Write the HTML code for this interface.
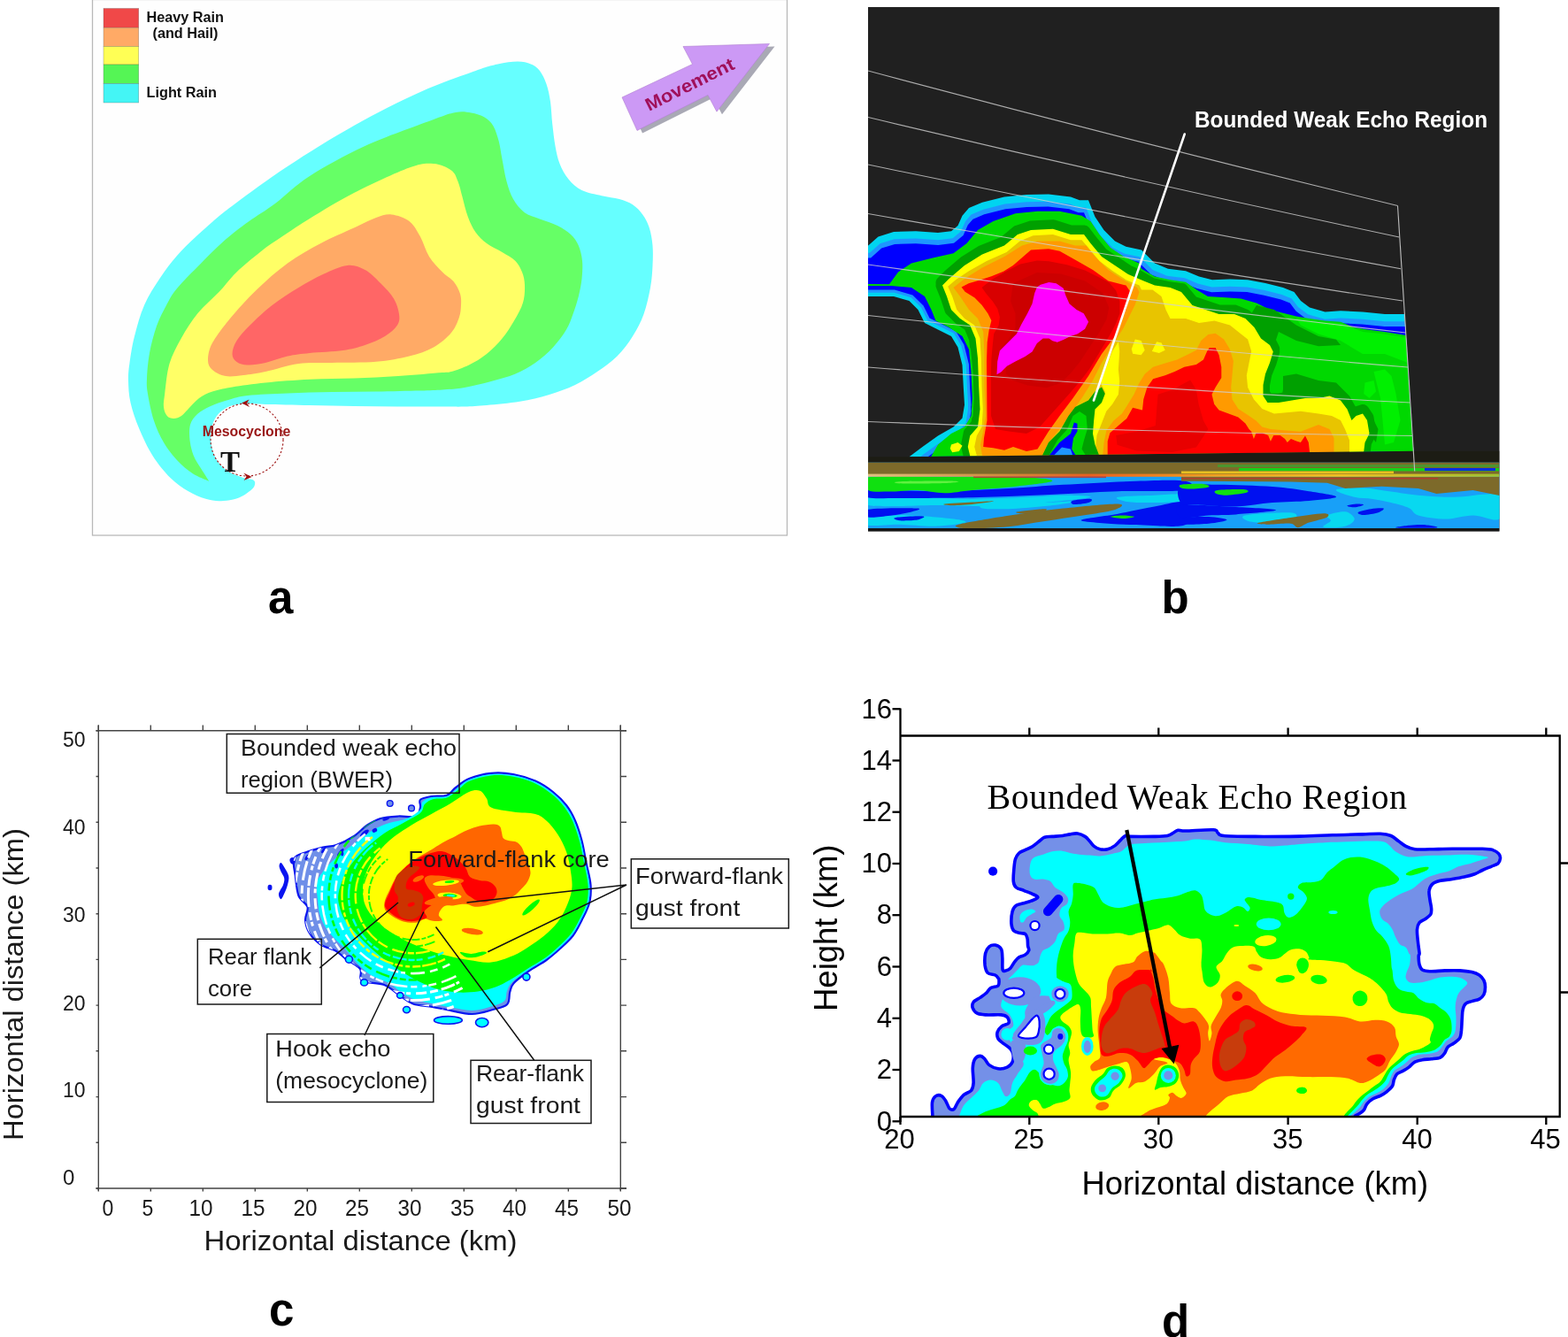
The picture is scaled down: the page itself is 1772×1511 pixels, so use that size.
<!DOCTYPE html>
<html lang="en">
<head>
<meta charset="utf-8">
<title>Supercell radar structure</title>
<style>
html,body{margin:0;padding:0;background:#fff;}
body{width:1772px;height:1511px;overflow:hidden;font-family:"Liberation Sans",sans-serif;}
svg{display:block;position:absolute;left:0;top:0;}
text{white-space:pre;}
</style>
</head>
<body>
<svg width="1772" height="1511" viewBox="0 0 1772 1511">
<rect x="0" y="0" width="1772" height="1511" fill="#ffffff"/>
<g id="pa">
<rect x="104.5" y="-0.5" width="785" height="605.5" fill="#fefefe" stroke="#b8b8b8" stroke-width="1.3"/>
<path d="M585.0,69.5C591.2,69.5 595.8,70.8 600.0,72.5C604.2,74.2 607.1,76.2 610.0,80.0C612.9,83.8 615.5,89.2 617.5,95.0C619.5,100.8 620.9,107.5 622.0,115.0C623.1,122.5 623.3,131.7 624.2,140.0C625.2,148.3 626.1,157.5 627.5,165.0C628.9,172.5 630.0,178.8 632.5,185.0C635.0,191.2 638.3,197.5 642.5,202.5C646.7,207.5 651.2,211.9 657.5,215.0C663.8,218.1 672.9,219.6 680.0,221.2C687.1,222.9 694.2,223.3 700.0,225.0C705.8,226.7 710.6,228.3 715.0,231.2C719.4,234.2 723.1,238.1 726.2,242.5C729.4,246.9 731.9,251.7 733.8,257.5C735.6,263.3 736.9,270.4 737.5,277.5C738.1,284.6 737.9,292.1 737.5,300.0C737.1,307.9 736.7,315.8 735.0,325.0C733.3,334.2 730.8,345.8 727.5,355.0C724.2,364.2 720.0,372.1 715.0,380.0C710.0,387.9 704.2,395.8 697.5,402.5C690.8,409.2 682.9,414.6 675.0,420.0C667.1,425.4 659.2,430.6 650.0,435.0C640.8,439.4 630.4,443.1 620.0,446.2C609.6,449.4 599.2,451.8 587.5,453.8C575.8,455.7 560.4,457.0 550.0,458.0C539.6,459.0 533.3,459.2 525.0,459.5C516.7,459.8 512.5,459.5 500.0,459.5C487.5,459.5 466.7,459.6 450.0,459.5C433.3,459.4 416.7,459.2 400.0,459.0C383.3,458.8 366.7,458.3 350.0,458.0C333.3,457.7 312.5,457.3 300.0,457.0C287.5,456.7 282.1,455.8 275.0,456.2C267.9,456.8 262.5,457.7 257.5,460.0C252.5,462.3 248.1,465.8 245.0,470.0C241.9,474.2 239.8,479.6 238.8,485.0C237.7,490.4 237.7,496.7 238.8,502.5C239.8,508.3 241.9,515.0 245.0,520.0C248.1,525.0 252.5,529.2 257.5,532.5C262.5,535.8 270.2,538.3 275.0,540.0C279.8,541.7 284.1,541.2 286.2,542.5C288.4,543.8 288.4,545.6 288.0,547.5C287.6,549.4 286.8,551.2 283.8,553.8C280.8,556.2 275.6,560.4 270.0,562.5C264.4,564.6 256.2,566.0 250.0,566.2C243.8,566.5 238.8,565.6 232.5,563.8C226.2,561.9 219.2,559.0 212.5,555.0C205.8,551.0 199.2,546.7 192.5,540.0C185.8,533.3 178.3,524.2 172.5,515.0C166.7,505.8 161.7,495.0 157.5,485.0C153.3,475.0 149.6,464.2 147.5,455.0C145.4,445.8 145.2,437.5 145.0,430.0C144.8,422.5 145.3,418.3 146.5,410.0C147.7,401.7 149.2,390.8 152.0,380.0C154.8,369.2 158.2,356.0 163.0,345.0C167.8,334.0 174.8,323.3 181.0,314.0C187.2,304.7 193.4,296.6 200.0,289.0C206.6,281.4 213.5,275.1 220.3,268.6C227.1,262.2 233.0,256.7 240.6,250.3C248.2,243.9 251.9,240.4 266.0,230.0C280.1,219.6 302.7,202.7 325.0,188.0C347.3,173.3 375.0,156.0 400.0,142.0C425.0,128.0 452.1,114.3 475.0,104.0C497.9,93.7 522.9,85.2 537.5,80.0C552.1,74.8 554.6,74.2 562.5,72.5C570.4,70.8 578.8,69.5 585.0,69.5Z" fill="#66ffff"/>
<path d="M236.2,543.8C233.1,542.3 223.5,539.0 217.5,535.0C211.5,531.0 205.4,525.8 200.0,520.0C194.6,514.2 189.4,507.5 185.0,500.0C180.6,492.5 176.8,484.2 173.8,475.0C170.8,465.8 168.3,452.8 167.0,445.0C165.7,437.2 165.7,435.7 166.0,428.0C166.3,420.3 167.2,408.9 169.0,399.0C170.8,389.1 173.8,377.5 177.0,368.5C180.2,359.5 184.2,352.1 188.0,345.0C191.8,337.9 193.5,333.9 200.0,326.0C206.5,318.1 218.0,306.8 227.0,297.7C236.0,288.6 245.2,279.2 254.2,271.3C263.2,263.4 271.7,257.2 281.2,250.3C290.7,243.4 299.5,238.6 311.0,230.0C322.5,221.4 333.1,209.8 350.0,199.0C366.9,188.2 389.6,175.5 412.5,165.0C435.4,154.5 470.4,142.3 487.5,136.0C504.6,129.7 507.5,128.4 515.0,127.0C522.5,125.6 527.1,126.6 532.5,127.5C537.9,128.4 543.3,130.0 547.5,132.5C551.7,135.0 554.8,137.9 557.5,142.5C560.2,147.1 562.1,153.8 563.8,160.0C565.4,166.2 566.0,172.5 567.5,180.0C569.0,187.5 570.4,197.5 572.5,205.0C574.6,212.5 576.7,219.2 580.0,225.0C583.3,230.8 587.5,236.2 592.5,240.0C597.5,243.8 603.8,245.0 610.0,247.5C616.2,250.0 624.2,252.1 630.0,255.0C635.8,257.9 641.0,261.2 645.0,265.0C649.0,268.8 651.6,272.5 653.8,277.5C655.9,282.5 657.4,288.8 658.0,295.0C658.6,301.2 658.2,308.3 657.5,315.0C656.8,321.7 655.4,328.3 653.8,335.0C652.1,341.7 649.8,348.8 647.5,355.0C645.2,361.2 643.8,366.2 640.0,372.5C636.2,378.8 630.8,386.2 625.0,392.5C619.2,398.8 612.1,405.0 605.0,410.0C597.9,415.0 590.8,419.0 582.5,422.5C574.2,426.0 564.6,428.4 555.0,431.0C545.4,433.6 534.2,436.4 525.0,438.0C515.8,439.6 508.3,439.9 500.0,440.5C491.7,441.1 487.5,441.2 475.0,441.5C462.5,441.8 441.7,442.2 425.0,442.5C408.3,442.8 391.7,442.7 375.0,443.0C358.3,443.3 340.8,443.8 325.0,444.5C309.2,445.2 291.2,445.8 280.0,447.0C268.8,448.2 265.0,450.0 258.0,452.0C251.0,454.0 243.8,456.3 238.0,459.0C232.2,461.7 226.8,464.5 223.0,468.0C219.2,471.5 216.4,475.1 215.0,480.0C213.6,484.9 213.9,491.7 214.5,497.5C215.1,503.3 216.6,509.6 218.8,515.0C220.9,520.4 224.6,525.2 227.5,530.0C230.4,534.8 234.8,541.5 236.2,543.8Z" fill="#66ff66"/>
<path d="M490.0,185.0C497.9,185.5 505.4,189.2 510.0,192.5C514.6,195.8 515.4,200.0 517.5,205.0C519.6,210.0 520.6,215.8 522.5,222.5C524.4,229.2 526.2,238.3 528.8,245.0C531.2,251.7 534.0,257.5 537.5,262.5C541.0,267.5 545.0,271.2 550.0,275.0C555.0,278.8 562.1,281.7 567.5,285.0C572.9,288.3 578.8,291.2 582.5,295.0C586.2,298.8 588.2,303.0 590.0,307.5C591.8,312.0 592.8,316.2 593.0,322.0C593.2,327.8 593.0,335.2 591.0,342.0C589.0,348.8 584.9,355.8 581.0,362.5C577.1,369.2 572.7,376.2 567.5,382.5C562.3,388.8 556.2,395.0 550.0,400.0C543.8,405.0 536.7,409.2 530.0,412.5C523.3,415.8 515.0,418.6 510.0,420.0C505.0,421.4 510.0,420.2 500.0,421.0C490.0,421.8 466.7,423.9 450.0,425.0C433.3,426.1 416.7,426.9 400.0,427.5C383.3,428.1 366.7,427.9 350.0,428.8C333.3,429.6 314.6,431.0 300.0,432.5C285.4,434.0 272.5,435.8 262.5,437.5C252.5,439.2 246.2,440.4 240.0,442.5C233.8,444.6 229.6,446.7 225.0,450.0C220.4,453.3 215.8,459.2 212.5,462.5C209.2,465.8 207.7,468.2 205.0,470.0C202.3,471.8 199.0,473.0 196.2,473.0C193.5,473.0 190.6,472.2 188.8,470.0C186.9,467.8 185.4,464.2 185.0,460.0C184.6,455.8 185.2,453.2 186.2,445.0C187.3,436.8 188.4,421.5 191.5,411.0C194.6,400.5 199.7,391.5 205.0,382.0C210.3,372.5 216.4,362.7 223.5,354.0C230.6,345.3 240.0,337.8 247.4,330.0C254.8,322.2 259.8,314.8 267.7,307.2C275.6,299.6 286.1,291.0 294.8,284.2C303.5,277.4 310.8,272.8 320.0,266.6C329.2,260.4 336.7,255.1 350.0,247.0C363.3,238.9 381.2,227.6 400.0,218.0C418.8,208.4 447.5,195.0 462.5,189.5C477.5,184.0 482.1,184.5 490.0,185.0Z" fill="#ffff66"/>
<path d="M442.5,242.5C448.8,243.2 457.1,245.8 462.5,250.0C467.9,254.2 471.2,260.8 475.0,267.5C478.8,274.2 480.8,283.3 485.0,290.0C489.2,296.7 495.4,302.8 500.0,307.5C504.6,312.2 509.2,313.9 512.5,318.0C515.8,322.1 518.6,327.5 520.0,332.0C521.4,336.5 521.2,340.5 521.0,345.0C520.8,349.5 520.6,353.8 518.8,359.0C516.9,364.2 514.8,370.4 510.0,376.0C505.2,381.6 497.9,388.1 490.0,392.5C482.1,396.9 473.3,399.8 462.5,402.5C451.7,405.2 439.6,407.5 425.0,408.8C410.4,410.0 389.6,409.6 375.0,410.0C360.4,410.4 350.0,409.3 337.5,411.0C325.0,412.7 310.4,417.8 300.0,420.0C289.6,422.2 282.5,423.2 275.0,424.0C267.5,424.8 260.8,426.0 255.0,425.0C249.2,424.0 243.3,421.0 240.0,418.0C236.7,415.0 235.0,412.1 235.0,407.0C235.0,401.9 235.8,395.3 240.0,387.5C244.2,379.7 251.7,370.0 260.0,360.0C268.3,350.0 279.2,337.9 290.0,327.5C300.8,317.1 312.9,306.2 325.0,297.5C337.1,288.8 350.0,281.7 362.5,275.0C375.0,268.3 389.6,262.3 400.0,257.5C410.4,252.7 417.9,248.5 425.0,246.0C432.1,243.5 436.2,241.8 442.5,242.5Z" fill="#ffaa66"/>
<path d="M392.5,300.0C400.4,299.2 406.2,301.7 412.5,305.0C418.8,308.3 424.6,314.6 430.0,320.0C435.4,325.4 441.5,331.7 445.0,337.5C448.5,343.3 450.3,350.0 451.0,355.0C451.7,360.0 451.7,363.3 449.0,367.5C446.3,371.7 441.1,376.2 435.0,380.0C428.9,383.8 420.4,387.3 412.5,390.0C404.6,392.7 397.9,394.5 387.5,396.0C377.1,397.5 360.4,397.9 350.0,399.0C339.6,400.1 333.3,400.7 325.0,402.5C316.7,404.3 307.5,408.3 300.0,410.0C292.5,411.7 285.4,412.7 280.0,412.5C274.6,412.3 270.4,411.1 267.5,409.0C264.6,406.9 262.5,404.0 262.5,400.0C262.5,396.0 264.2,390.4 267.5,385.0C270.8,379.6 275.8,374.2 282.5,367.5C289.2,360.8 298.3,352.1 307.5,345.0C316.7,337.9 327.9,330.8 337.5,325.0C347.1,319.2 355.8,314.2 365.0,310.0C374.2,305.8 384.6,300.8 392.5,300.0Z" fill="#ff6666"/>
<rect x="117" y="9.5" width="39.7" height="21.75" fill="#f04848" stroke="rgba(80,80,80,0.45)" stroke-width="0.6"/>
<rect x="117" y="31.25" width="39.7" height="21.25" fill="#ffaa66" stroke="rgba(80,80,80,0.45)" stroke-width="0.6"/>
<rect x="117" y="52.5" width="39.7" height="20.5" fill="#ffff55" stroke="rgba(80,80,80,0.45)" stroke-width="0.6"/>
<rect x="117" y="73" width="39.7" height="21.5" fill="#55f555" stroke="rgba(80,80,80,0.45)" stroke-width="0.6"/>
<rect x="117" y="94.5" width="39.7" height="21.5" fill="#44f5f5" stroke="rgba(80,80,80,0.45)" stroke-width="0.6"/>
<g font-family="'Liberation Sans',sans-serif" font-weight="bold" font-size="16px" fill="#111">
<text x="165.5" y="24.5" textLength="87.5" lengthAdjust="spacingAndGlyphs">Heavy Rain</text>
<text x="172.5" y="43" textLength="74" lengthAdjust="spacingAndGlyphs">(and Hail)</text>
<text x="165.5" y="110" textLength="79.5" lengthAdjust="spacingAndGlyphs">Light Rain</text>
</g>
<path d="M709.0,113.0L726.0,150.5L806.0,110.5L816.0,129.2L875.5,52.5L778.0,55.5L788.5,75.5Z" fill="#a9a9b5"/>
<path d="M703.0,110.0L720.0,147.5L800.0,107.5L810.0,126.2L869.5,49.5L772.0,52.5L782.5,72.5Z" fill="#cc99f5" stroke="#b080d0" stroke-width="0.6"/>
<text transform="translate(733.5,126) rotate(-26.5)" font-family="'Liberation Sans',sans-serif" font-weight="bold" font-size="20.5px" fill="#a0105a" textLength="109.5" lengthAdjust="spacingAndGlyphs">Movement</text>
<circle cx="279" cy="497" r="41" fill="none" stroke="#a01818" stroke-width="1.1" stroke-dasharray="2.2 2.2"/>
<path d="M273,455.5 L281.5,451.5 L279,455.8 L282,460 Z" fill="#a01010"/>
<path d="M284.5,539 L275.5,534.5 L278.5,538.8 L275.5,543 Z" fill="#a01010"/>
<text x="228.75" y="493" font-family="'Liberation Sans',sans-serif" font-weight="bold" font-size="16px" fill="#991515" textLength="99.5" lengthAdjust="spacingAndGlyphs">Mesocyclone</text>
<text x="249" y="532.5" font-family="'Liberation Serif',serif" font-weight="bold" font-size="33px" fill="#111">T</text>
</g>
<g id="pb">
<rect x="981" y="8" width="713.5" height="592.5" fill="#202020"/>
<defs><clipPath id="pbclip"><rect x="981" y="8" width="713.5" height="592.5"/></clipPath>
<clipPath id="cloudclip"><path d="M981.0,8.0L1565.0,8.0L1597.3,510.0L1027.0,516.3L981.0,516.3Z"/></clipPath></defs>
<g clip-path="url(#pbclip)">
<g clip-path="url(#cloudclip)">
<path d="M940.0,277.5L981.2,277.5L992.5,267.5L1010.0,262.0L1035.0,261.2L1060.0,263.0L1075.0,261.2L1082.5,255.0L1087.5,243.8L1095.0,235.0L1110.0,228.8L1135.0,222.5L1160.0,220.0L1185.0,219.5L1210.0,222.5L1220.0,226.2L1230.0,226.2L1232.5,232.5L1237.5,245.0L1247.5,260.0L1260.0,272.5L1272.5,278.8L1290.0,282.5L1297.5,290.0L1305.0,297.5L1320.0,303.8L1340.0,306.2L1355.0,312.5L1370.0,316.2L1390.0,315.5L1410.0,316.2L1430.0,320.0L1450.0,325.0L1462.5,330.0L1470.0,340.0L1480.0,347.5L1497.5,352.5L1515.0,351.2L1540.0,352.5L1565.0,355.0L1585.8,355.0L1640.0,357.5L1640.0,550.0L985.0,550.0L1027.5,516.2L1042.5,505.0L1060.0,492.5L1077.5,482.5L1087.5,472.5L1090.0,457.5L1088.8,437.5L1087.5,412.5L1082.5,392.5L1075.0,380.0L1060.0,372.5L1045.0,365.0L1037.5,350.0L1027.5,340.0L1010.0,335.0L981.2,335.0L940.0,335.0Z" fill="#00d4f0"/>
<path d="M944.2,330.8L1010.6,330.8L1029.7,336.3L1041.0,347.5L1048.1,361.9L1078.0,376.8L1086.4,390.9L1091.7,411.9L1092.9,437.3L1094.2,457.7L1094.0,458.8L1094.2,461.7L1091.4,478.5L1080.1,489.9L1062.3,500.0L1045.0,512.4L1030.1,523.6L1002.1,545.8L1635.8,545.8L1635.8,365.5L1585.7,363.2L1564.8,363.2L1539.7,360.7L1515.0,359.5L1497.1,360.7L1478.1,355.3L1467.0,347.0L1459.8,337.5L1448.7,333.0L1429.1,328.1L1409.5,324.4L1390.0,323.7L1369.6,324.5L1353.7,320.5L1338.9,314.3L1318.9,311.8L1302.6,305.1L1287.9,290.3L1271.1,286.7L1257.5,280.0L1244.2,266.7L1233.8,251.0L1227.2,234.4L1219.2,234.4L1209.0,230.6L1184.8,227.7L1160.3,228.2L1135.7,230.6L1111.3,236.7L1097.5,242.5L1091.1,250.0L1085.9,261.6L1076.7,269.3L1060.1,271.2L1034.9,269.5L1010.7,270.2L994.6,275.2L982.8,285.7L944.2,285.7Z" fill="#1e96ff"/>
<path d="M947.4,327.6L1011.0,327.6L1031.4,333.4L1043.6,345.6L1050.5,359.5L1080.2,374.3L1089.4,389.6L1094.9,411.4L1096.1,437.1L1097.4,457.9L1097.1,459.7L1097.4,464.4L1094.4,482.6L1082.0,494.9L1064.0,505.2L1046.9,517.5L1032.0,528.6L1014.4,542.6L1632.6,542.6L1632.6,371.1L1585.6,368.9L1564.6,368.9L1539.4,366.4L1515.1,365.2L1496.7,366.5L1476.7,360.7L1464.7,351.8L1457.8,342.6L1447.7,338.6L1428.4,333.7L1409.2,330.1L1390.0,329.4L1369.2,330.2L1352.7,326.0L1338.1,320.0L1318.1,317.5L1300.8,310.3L1286.3,295.8L1270.0,292.3L1255.6,285.1L1241.7,271.2L1230.9,255.0L1225.0,240.2L1218.7,240.2L1208.2,236.2L1184.6,233.4L1160.4,233.9L1136.3,236.3L1112.3,242.3L1099.5,247.7L1093.8,254.2L1088.6,266.1L1078.0,274.8L1060.2,276.9L1034.9,275.2L1011.2,275.9L996.2,280.6L984.1,291.4L947.4,291.4Z" fill="#0000ff"/>
<path d="M940.0,320.8L1005.0,321.2L1015.0,307.5L1030.0,297.5L1055.0,291.2L1077.5,286.2L1092.5,275.0L1105.0,260.0L1122.5,250.0L1147.5,241.2L1172.5,238.8L1197.5,238.8L1222.5,243.8L1232.5,250.0L1242.5,265.0L1255.0,280.0L1270.0,290.0L1287.5,297.5L1290.0,303.8L1305.0,312.5L1322.5,316.2L1340.0,318.8L1352.5,327.5L1365.0,335.0L1385.0,336.2L1402.5,337.5L1420.0,342.5L1435.0,350.0L1450.0,353.8L1465.0,357.5L1480.0,360.0L1497.5,362.5L1515.0,363.8L1530.0,370.0L1545.0,372.5L1565.0,375.0L1587.5,378.8L1640.0,381.2L1640.0,550.0L1042.5,550.0L1052.5,515.5L1060.0,502.5L1075.0,490.0L1090.0,482.5L1097.5,470.0L1098.8,450.0L1097.5,420.0L1095.0,395.0L1087.5,380.0L1072.5,370.0L1057.5,362.5L1052.5,350.0L1045.0,335.0L1030.0,325.0L1007.5,323.0L940.0,323.0Z" fill="#00d800"/>
<path d="M1067.9,352.4L1068.1,353.0L1068.4,353.6L1068.8,354.2L1069.2,354.8L1069.7,355.3L1079.7,365.3L1080.2,365.8L1080.8,366.2L1090.2,372.5L1095.2,384.4L1096.1,392.7L1096.8,394.1L1096.9,394.3L1096.9,394.4L1097.0,394.6L1097.0,394.8L1099.5,419.8L1099.5,419.9L1100.7,449.9L1100.7,450.1L1099.5,470.1L1099.5,470.3L1099.4,470.5L1099.4,470.7L1099.3,470.9L1099.2,471.0L1098.3,472.5L1097.8,476.3L1092.2,482.8L1091.7,483.5L1091.6,483.7L1091.5,483.8L1091.4,484.0L1091.2,484.1L1091.1,484.2L1090.9,484.3L1090.8,484.3L1090.6,484.6L1090.1,485.2L1089.7,485.8L1089.4,486.5L1089.1,487.3L1088.9,488.0L1086.4,500.5L1086.3,501.2L1086.3,501.8L1086.3,502.5L1086.3,503.2L1086.4,503.5L1086.4,503.5L1086.3,504.2L1086.3,504.8L1086.3,505.5L1086.3,506.2L1086.5,506.8L1088.8,515.9L1088.8,547.0L1088.8,548.0L1548.8,548.0L1548.8,547.0L1548.8,510.9L1549.8,502.2L1554.2,493.4L1554.5,492.6L1554.8,491.9L1554.9,491.1L1555.0,490.3L1555.0,489.5L1554.9,488.8L1554.8,488.5L1554.9,488.1L1555.0,487.3L1555.0,486.5L1554.9,485.8L1552.4,470.8L1552.2,470.0L1552.0,469.2L1551.6,468.5L1551.2,467.8L1546.2,460.3L1545.8,459.7L1545.3,459.2L1544.7,458.7L1544.1,458.2L1543.5,457.9L1542.8,457.5L1542.1,457.3L1541.3,457.1L1540.6,457.0L1539.8,457.0L1539.1,457.1L1538.4,457.2L1537.6,457.4L1530.7,459.7L1529.5,456.7L1529.2,456.1L1528.9,455.5L1528.5,455.0L1521.0,445.0L1520.6,444.5L1520.1,444.0L1519.6,443.5L1519.0,443.2L1518.4,442.8L1517.8,442.5L1505.3,437.5L1504.6,437.3L1503.9,437.1L1503.2,437.0L1502.5,437.0L1501.7,437.0L1501.0,437.1L1489.3,439.5L1475.0,439.5L1474.4,439.5L1473.8,439.6L1444.4,444.5L1436.5,444.5L1435.0,442.2L1435.0,435.7L1437.2,424.6L1442.0,412.8L1442.2,412.2L1445.9,399.7L1446.1,399.0L1446.2,398.3L1446.2,397.6L1446.2,396.9L1446.1,396.2L1446.1,396.0L1446.1,396.0L1446.2,395.3L1446.2,394.6L1446.2,393.9L1446.1,393.2L1446.0,392.5L1445.7,391.8L1445.5,391.1L1441.7,383.6L1441.4,383.0L1441.0,382.5L1440.5,381.9L1440.0,381.4L1439.5,381.0L1430.7,374.4L1423.9,363.1L1423.4,362.4L1422.8,361.7L1412.8,351.7L1412.2,351.2L1411.6,350.7L1411.0,350.4L1410.3,350.0L1397.8,345.0L1397.1,344.8L1396.4,344.6L1395.7,344.5L1395.0,344.5L1378.7,344.5L1351.9,335.6L1340.8,322.2L1340.3,321.7L1339.7,321.2L1339.1,320.7L1338.9,320.6L1322.2,318.2L1322.1,318.2L1304.6,314.5L1304.4,314.4L1304.2,314.3L1304.0,314.2L1289.0,305.5L1288.8,305.4L1288.7,305.3L1288.5,305.1L1288.4,305.0L1288.3,304.8L1288.2,304.7L1288.1,304.5L1288.1,304.5L1278.6,300.4L1250.1,281.4L1238.4,267.3L1231.0,257.5L1230.5,256.9L1230.0,256.4L1229.3,255.9L1228.7,255.5L1228.0,255.1L1227.3,254.9L1226.5,254.7L1225.8,254.5L1225.0,254.5L1211.1,254.5L1192.2,248.6L1191.6,248.4L1190.9,248.3L1190.3,248.3L1189.6,248.3L1164.6,249.5L1163.9,249.6L1163.3,249.7L1162.6,249.9L1147.6,254.9L1147.0,255.1L1146.4,255.4L1145.8,255.8L1145.2,256.2L1131.1,268.0L1107.2,277.5L1106.6,277.8L1106.0,278.1L1086.0,290.6L1085.6,291.0L1085.1,291.3L1067.6,306.3L1067.2,306.7L1059.7,314.2L1059.2,314.7L1058.8,315.3L1058.4,315.9L1058.1,316.6L1057.8,317.3L1057.7,318.0L1057.5,318.7L1057.5,319.4L1057.5,320.2L1057.6,320.9L1057.7,321.0L1057.7,321.0L1057.5,321.7L1057.5,322.4L1057.5,323.2L1057.6,323.9L1057.8,324.6L1058.0,325.3L1063.0,337.6Z" fill="#00a000"/>
<path d="M1465.0,360.0L1490.0,363.8L1515.0,365.5L1540.0,375.0L1565.0,377.5L1588.8,381.2L1591.2,410.0L1565.0,400.0L1540.0,400.0L1515.0,385.0L1490.0,377.5L1470.0,367.5Z" fill="#00f000"/>
<path d="M1552.5,420.0L1565.0,417.5L1572.5,425.0L1577.5,445.0L1582.5,475.0L1575.0,500.0L1565.0,502.5L1562.5,475.0L1560.0,450.0Z" fill="#00f000"/>
<path d="M1542.5,432.5L1552.5,430.0L1555.0,442.5L1547.5,450.0L1541.2,445.0Z" fill="#00f000"/>
<path d="M1450.0,425.0L1465.0,422.5L1490.0,430.0L1510.0,432.5L1525.0,447.5L1535.0,465.0L1550.0,470.0L1557.5,485.0L1555.0,500.0L1547.5,490.0L1545.0,475.0L1540.0,467.5L1532.5,470.0L1527.5,475.0L1522.5,462.5L1515.0,452.5L1502.5,447.5L1490.0,450.0L1475.0,450.0L1460.0,452.5L1447.5,453.8L1450.0,440.0Z" fill="#00a000"/>
<path d="M1420.0,345.0L1440.0,350.0L1465.0,367.5L1490.0,380.0L1510.0,383.8L1515.0,390.0L1490.0,391.2L1465.0,385.0L1445.0,375.0L1440.0,390.0L1438.8,397.5L1435.0,390.0L1425.0,382.5L1417.5,370.0L1410.0,361.2Z" fill="#00a000"/>
<path d="M1065.0,322.5L1072.5,315.0L1090.0,300.0L1110.0,287.5L1135.0,277.5L1150.0,265.0L1165.0,260.0L1190.0,258.8L1210.0,265.0L1225.0,265.0L1232.5,275.0L1245.0,290.0L1260.0,300.0L1275.0,310.0L1292.5,317.5L1305.0,322.5L1322.5,325.0L1335.0,330.0L1347.5,345.0L1362.5,350.0L1377.5,355.0L1395.0,355.0L1407.5,360.0L1417.5,370.0L1425.0,382.5L1435.0,390.0L1438.8,397.5L1435.0,410.0L1430.0,422.5L1427.5,435.0L1427.5,447.5L1432.5,455.0L1445.0,455.0L1460.0,452.5L1475.0,450.0L1490.0,450.0L1502.5,447.5L1515.0,452.5L1522.5,462.5L1527.5,475.0L1532.5,470.0L1540.0,467.5L1545.0,475.0L1547.5,490.0L1542.5,500.0L1541.2,510.5L1541.2,550.0L1096.2,550.0L1096.2,515.0L1093.8,505.0L1096.2,492.5L1105.0,482.5L1107.5,462.5L1106.2,437.5L1105.0,405.0L1102.5,382.5L1096.2,367.5L1085.0,360.0L1075.0,350.0L1070.0,335.0Z" fill="#ffff00"/>
<path d="M1071.2,323.8L1080.0,316.2L1095.0,306.2L1115.0,295.0L1137.5,285.0L1152.5,272.5L1167.5,266.2L1190.0,265.0L1210.0,271.2L1222.5,271.2L1230.0,280.0L1242.5,295.0L1257.5,306.2L1272.5,316.2L1287.5,322.5L1290.0,327.5L1302.5,327.5L1312.5,335.0L1317.5,350.0L1322.5,360.0L1340.0,360.0L1355.0,365.0L1372.5,362.5L1390.0,367.5L1402.5,377.5L1410.1,383.5L1414.2,397.1L1411.5,410.6L1408.8,424.2L1410.1,437.7L1416.9,451.3L1426.4,462.1L1439.9,467.5L1453.5,466.2L1469.9,464.8L1490.0,467.5L1505.0,470.0L1515.0,475.0L1520.0,485.0L1525.0,497.5L1525.0,510.5L1525.0,550.0L1103.8,550.0L1103.8,515.0L1101.2,505.0L1103.8,492.5L1109.5,482.5L1110.8,462.5L1109.5,437.5L1108.8,405.0L1107.5,382.5L1101.2,367.5L1090.0,360.0L1081.2,350.0L1076.2,335.0Z" fill="#e8c400"/>
<path d="M1077.5,325.0L1090.0,315.0L1110.0,302.5L1135.0,290.0L1155.0,277.5L1172.5,272.5L1197.5,272.5L1215.0,277.5L1227.5,277.5L1237.5,290.0L1252.5,305.0L1267.5,315.0L1285.0,325.0L1287.5,330.0L1282.5,345.0L1270.0,370.0L1257.5,390.0L1245.0,410.0L1235.0,430.0L1222.5,450.0L1210.0,467.5L1197.5,485.0L1185.0,500.0L1177.5,515.0L1177.5,550.0L1110.0,550.0L1110.0,515.0L1108.0,502.5L1110.5,490.0L1113.8,470.0L1112.5,437.5L1112.5,400.0L1111.2,375.0L1105.0,360.0L1095.0,350.0L1085.0,335.0Z" fill="#ff9a00"/>
<path d="M1244.9,532.5L1246.3,513.6L1247.6,500.0L1250.3,486.5L1258.4,475.6L1267.9,467.5L1274.7,456.7L1281.5,445.8L1286.9,433.7L1293.7,422.8L1303.1,414.7L1316.7,410.6L1330.2,406.6L1341.1,401.2L1351.9,395.7L1357.3,384.9L1365.4,378.1L1373.6,376.8L1383.1,383.5L1389.8,394.4L1393.9,407.9L1392.5,424.2L1391.2,437.7L1392.5,451.3L1399.3,462.1L1410.1,468.9L1419.6,475.6L1426.4,482.4L1435.9,485.1L1453.5,486.5L1469.9,487.8L1490.0,480.0L1502.5,485.0L1507.5,495.0L1507.5,510.5L1507.5,550.0Z" fill="#ff9a00"/>
<path d="M1086.6,324.4L1094.7,320.3L1108.2,316.3L1120.4,312.2L1134.0,306.8L1144.8,300.0L1165.0,282.5L1185.0,281.2L1197.5,283.8L1217.5,295.0L1235.0,305.0L1252.5,317.5L1272.5,322.5L1277.5,330.0L1272.5,350.0L1260.0,380.0L1245.0,400.0L1230.0,425.0L1212.5,450.0L1197.5,470.0L1185.0,487.5L1172.5,507.5L1160.0,510.0L1145.0,505.0L1135.0,508.8L1122.5,506.2L1111.2,505.0L1112.0,495.0L1115.5,475.0L1115.0,408.4L1115.7,386.7L1117.7,373.1L1120.4,362.3L1116.4,354.2L1109.6,344.7L1101.5,336.6L1090.6,329.8Z" fill="#ff0000"/>
<path d="M1251.7,532.5L1251.7,513.6L1251.7,498.7L1254.4,489.2L1263.9,481.1L1273.3,472.9L1280.1,460.7L1291.0,463.5L1292.3,451.3L1296.4,437.7L1303.1,428.2L1316.7,424.2L1327.5,420.1L1338.4,414.7L1351.9,412.0L1360.0,406.6L1364.1,397.1L1366.8,393.0L1373.6,393.0L1377.6,401.2L1380.3,414.7L1380.3,426.9L1373.6,437.7L1369.5,445.8L1372.2,456.7L1377.6,463.5L1388.5,467.5L1399.3,471.6L1407.4,478.4L1411.5,485.1L1414.2,487.8L1416.9,496.0L1419.6,489.2L1426.4,489.2L1433.2,491.9L1435.9,498.7L1439.3,491.9L1446.7,491.9L1452.1,496.0L1454.8,500.0L1458.9,496.0L1465.7,498.7L1469.9,500.0L1475.0,492.5L1478.8,500.0L1480.0,510.5L1480.0,550.0Z" fill="#ff0000"/>
<path d="M1308.6,445.8L1324.8,440.4L1345.1,429.6L1351.9,440.4L1354.6,456.7L1360.0,475.6L1365.4,485.1L1351.9,505.4L1324.8,510.9L1284.2,509.5L1262.5,502.7L1261.2,491.9L1284.2,487.8L1305.8,481.1L1307.2,462.1Z" fill="#e80000"/>
<path d="M1109.6,325.1L1120.4,316.3L1136.7,306.8L1152.9,298.6L1171.9,294.6L1185.4,295.3L1205.8,299.3L1226.1,305.4L1239.6,312.2L1253.2,319.0L1261.3,328.4L1265.4,340.6L1265.4,354.2L1261.3,365.0L1255.9,375.8L1247.8,389.4L1239.6,402.9L1231.5,416.5L1223.4,427.3L1216.6,435.4L1209.8,443.6L1175.0,482.5L1160.0,490.0L1140.0,487.5L1125.0,485.0L1120.0,470.0L1119.8,421.9L1120.4,405.6L1121.8,389.4L1123.1,377.2L1128.6,367.7L1129.9,358.2L1127.2,348.8L1121.8,340.6L1115.0,332.5Z" fill="#d80000"/>
<path d="M1144.8,320.3L1171.9,308.1L1199.0,309.5L1226.1,317.6L1246.4,331.2L1253.2,347.4L1250.5,361.0L1242.3,375.8L1231.5,392.1L1220.7,408.4L1209.8,421.9L1199.0,432.7L1182.7,438.2L1161.1,435.4L1144.8,430.0L1136.7,421.9L1136.7,402.9L1131.3,421.9L1127.2,424.6L1129.9,394.8L1139.4,384.0L1147.5,370.4L1147.5,354.2L1142.1,340.6Z" fill="#cc0000"/>
<path d="M1176.0,321.7L1185.4,319.0L1193.6,320.3L1201.7,325.7L1204.4,333.9L1208.5,343.3L1216.6,350.1L1224.7,354.2L1230.1,363.7L1226.1,371.8L1218.0,377.2L1209.8,379.9L1201.7,384.0L1194.9,386.7L1189.5,385.3L1185.4,382.6L1178.7,382.6L1171.9,388.0L1166.5,397.5L1158.4,402.9L1147.5,408.4L1138.0,413.8L1131.3,420.5L1126.5,423.3L1127.2,408.4L1129.9,396.2L1139.4,386.7L1148.9,377.2L1154.3,366.4L1161.1,354.2L1166.5,343.3L1169.2,331.2L1171.9,324.4Z" fill="#ff00ff"/>
<path d="M1238.1,532.5L1238.1,505.4L1239.5,491.9L1244.9,478.4L1250.3,464.8L1257.1,456.7L1263.9,445.8L1265.2,431.0L1263.9,417.4L1265.2,397.1L1263.9,386.3L1257.1,397.1L1250.3,414.7L1243.5,432.3L1249.0,443.1L1246.3,451.3L1238.1,456.7L1232.7,472.9L1230.0,491.9L1224.6,513.6L1224.6,532.5Z" fill="#ffff00"/>
<path d="M1282.8,383.5L1289.6,384.9L1293.7,395.7L1289.6,401.2L1280.1,399.8L1278.8,394.4Z" fill="#ffff00"/>
<path d="M1307.2,386.3L1312.6,387.6L1316.7,395.7L1309.9,399.1L1301.8,397.1Z" fill="#ffff00"/>
<path d="M1177.5,550.0L1177.5,515.5L1185.0,500.0L1197.5,487.5L1207.5,470.0L1215.0,460.0L1230.0,452.5L1237.5,442.5L1245.0,437.5L1248.8,445.0L1245.0,455.0L1237.5,462.5L1236.2,475.0L1235.0,490.0L1237.5,502.5L1242.5,515.5L1242.5,550.0Z" fill="#00a000"/>
<path d="M1185.0,550.0L1185.0,515.5L1195.0,497.5L1206.2,485.0L1212.5,470.0L1220.0,465.0L1227.5,470.0L1228.8,485.0L1225.0,497.5L1222.5,507.5L1227.5,515.5L1227.5,550.0Z" fill="#00d800"/>
<path d="M1185.0,550.0L1185.0,515.5L1197.5,500.0L1210.0,490.0L1213.8,477.5L1217.5,478.8L1217.5,487.5L1213.0,495.0L1211.2,507.5L1216.2,515.5L1216.2,550.0Z" fill="#0000ff"/>
<path d="M1190.0,550.0L1190.0,515.5L1200.0,505.5L1210.0,507.5L1212.5,515.5L1212.5,550.0Z" fill="#1e96ff"/>
<path d="M1075.0,502.5L1082.5,500.0L1087.5,503.8L1083.8,510.0L1076.2,511.2L1073.8,507.0Z" fill="#ffff00"/>
</g>
<path d="M981,516.3 L1027,516.3 L1598,509.8 L1694.5,509.8 L1694.5,523 L981,523Z" fill="#1c1c14"/>
<g id="ground">
<rect x="981" y="522.7" width="713.5" height="74.5" fill="#18a0f8"/>
<path d="M981.2,562.8C990.4,561.3 1017.2,561.6 1036.8,561.8C1056.4,562.0 1078.0,563.9 1098.6,563.9C1119.2,563.9 1143.2,562.5 1160.4,561.8C1177.5,561.1 1189.6,559.7 1201.6,559.7C1213.6,559.7 1235.9,560.4 1232.5,561.8C1229.0,563.2 1199.9,566.3 1181.0,568.0C1162.1,569.7 1139.8,571.6 1119.2,572.1C1098.6,572.6 1074.6,571.1 1057.4,571.1C1040.2,571.1 1028.9,572.1 1016.2,572.1C1003.5,572.1 987.0,572.6 981.2,571.1C975.3,569.5 971.9,564.4 981.2,562.8Z" fill="#08d8f0"/>
<path d="M981.2,584.4C988.7,582.6 1010.4,582.0 1026.5,582.4C1042.6,582.7 1067.3,585.1 1078.0,586.5C1088.6,587.9 1093.8,589.3 1090.3,590.6C1086.9,592.0 1069.7,594.4 1057.4,594.7C1045.0,595.1 1028.9,592.9 1016.2,592.7C1003.5,592.5 987.0,595.1 981.2,593.7C975.3,592.3 973.6,586.3 981.2,584.4Z" fill="#08d8f0"/>
<path d="M1119.2,568.0C1131.2,566.9 1163.8,568.3 1181.0,568.0C1198.1,567.6 1222.2,565.2 1222.2,565.9C1222.2,566.6 1194.7,570.5 1181.0,572.1C1167.2,573.6 1151.8,574.8 1139.8,575.2C1127.8,575.5 1112.3,575.4 1108.9,574.2C1105.4,572.9 1107.2,569.0 1119.2,568.0Z" fill="#08d8f0"/>
<path d="M1263.4,561.8C1268.5,560.6 1291.8,560.2 1304.6,559.7C1317.3,559.2 1333.9,557.7 1339.8,558.7C1345.6,559.7 1345.6,564.4 1339.8,565.9C1333.9,567.5 1315.6,567.8 1304.6,568.0C1293.5,568.1 1280.5,568.0 1273.7,566.9C1266.8,565.9 1258.2,563.0 1263.4,561.8Z" fill="#08d8f0"/>
<path d="M1510.1,553.6C1511.8,551.8 1530.7,551.2 1541.0,551.5C1551.3,551.8 1561.6,554.2 1571.9,555.6C1582.2,557.0 1590.8,558.7 1602.8,559.7C1614.8,560.8 1628.7,561.8 1644.0,561.8C1659.2,561.8 1686.0,555.6 1694.4,559.7C1702.8,563.9 1699.4,582.7 1694.4,586.5C1689.4,590.3 1674.7,582.4 1664.6,582.4C1654.4,582.4 1644.0,586.5 1633.7,586.5C1623.4,586.5 1609.6,584.4 1602.8,582.4C1595.9,580.3 1597.6,576.6 1592.5,574.2C1587.3,571.7 1578.7,569.7 1571.9,568.0C1565.0,566.3 1558.1,564.9 1551.3,563.9C1544.4,562.8 1537.5,563.5 1530.7,561.8C1523.8,560.1 1508.4,555.3 1510.1,553.6Z" fill="#08d8f0"/>
<path d="M1499.8,582.4C1502.5,580.7 1515.2,577.6 1520.4,578.3C1525.5,579.0 1530.7,583.8 1530.7,586.5C1530.7,589.3 1526.2,593.2 1520.4,594.7C1514.5,596.3 1498.4,596.8 1495.7,595.8C1492.9,594.7 1503.2,590.8 1503.9,588.6C1504.6,586.3 1497.0,584.1 1499.8,582.4Z" fill="#08d8f0"/>
<path d="M1407.1,582.4C1414.6,580.7 1449.3,578.6 1458.6,579.3C1467.9,580.0 1466.1,584.6 1462.7,586.5C1459.3,588.4 1446.2,590.1 1438.0,590.6C1429.7,591.1 1418.4,591.0 1413.3,589.6C1408.1,588.2 1399.5,584.1 1407.1,582.4Z" fill="#08d8f0"/>
<path d="M981.2,554.0C993.9,552.8 1031.0,555.5 1057.4,555.2C1083.8,554.9 1115.7,553.1 1139.8,551.9C1163.8,550.7 1177.5,549.2 1201.6,547.8C1225.6,546.4 1260.9,544.4 1284.0,543.7C1307.0,543.0 1330.5,541.9 1339.8,543.7C1349.1,545.4 1352.5,552.0 1339.8,554.0C1327.0,555.9 1289.8,554.3 1263.4,555.2C1236.9,556.1 1208.4,558.2 1181.0,559.3C1153.5,560.5 1126.0,561.6 1098.6,562.2C1071.1,562.8 1035.8,563.0 1016.2,563.0C996.6,563.0 987.0,563.7 981.2,562.2C975.3,560.7 968.5,555.1 981.2,554.0Z" fill="#0010f0"/>
<path d="M981.2,575.8C990.4,574.2 1029.2,574.0 1036.8,574.6C1044.3,575.1 1031.6,577.9 1026.5,579.3C1021.3,580.7 1013.4,581.9 1005.9,582.8C998.3,583.7 985.3,585.6 981.2,584.4C977.1,583.3 971.9,577.4 981.2,575.8Z" fill="#0010f0"/>
<path d="M1222.2,587.5C1225.6,585.8 1249.6,583.2 1263.4,580.7C1277.1,578.2 1291.8,574.6 1304.6,572.5C1317.3,570.4 1333.9,564.5 1339.8,568.0C1345.6,571.4 1349.1,588.9 1339.8,593.1C1330.5,597.3 1300.1,593.4 1284.0,593.1C1267.8,592.8 1253.1,592.0 1242.8,591.0C1232.5,590.1 1218.7,589.3 1222.2,587.5Z" fill="#0010f0"/>
<path d="M1012.1,584.9C1016.5,584.1 1038.9,583.0 1043.0,583.4C1047.1,583.9 1041.3,586.7 1036.8,587.5C1032.3,588.3 1020.3,588.6 1016.2,588.2C1012.1,587.7 1007.6,585.7 1012.1,584.9Z" fill="#0010f0"/>
<path d="M1211.9,565.9C1215.0,564.9 1229.4,563.5 1232.5,563.9C1235.6,564.2 1233.5,566.9 1230.4,568.0C1227.3,569.0 1217.0,570.4 1213.9,570.0C1210.8,569.7 1208.8,566.9 1211.9,565.9Z" fill="#0010f0"/>
<path d="M1335.0,549.0C1341.9,545.5 1359.0,547.6 1376.2,547.8C1393.4,548.0 1420.8,548.8 1438.0,550.1C1455.2,551.3 1467.2,553.3 1479.2,555.2C1491.2,557.1 1510.1,559.6 1510.1,561.4C1510.1,563.2 1491.2,564.8 1479.2,565.9C1467.2,567.0 1451.7,566.9 1438.0,568.0C1424.3,569.1 1410.5,572.1 1396.8,572.5C1383.1,572.9 1365.9,571.0 1355.6,570.4C1345.3,569.9 1338.4,572.6 1335.0,569.0C1331.6,565.4 1328.1,552.6 1335.0,549.0Z" fill="#0010f0"/>
<path d="M1335.0,571.1C1345.3,569.1 1378.9,572.2 1396.8,573.1C1414.6,574.0 1442.1,575.2 1442.1,576.6C1442.1,578.0 1409.5,580.4 1396.8,581.4C1384.1,582.3 1376.2,581.8 1365.9,582.4C1355.6,583.0 1340.1,586.7 1335.0,584.9C1329.9,583.0 1324.7,573.0 1335.0,571.1Z" fill="#0010f0"/>
<path d="M1335.0,585.5C1340.1,584.1 1357.3,583.7 1365.9,584.0C1374.5,584.4 1386.5,586.3 1386.5,587.5C1386.5,588.8 1374.5,590.9 1365.9,591.7C1357.3,592.4 1340.1,593.3 1335.0,592.3C1329.9,591.2 1329.9,586.9 1335.0,585.5Z" fill="#0010f0"/>
<path d="M1534.8,578.9C1536.2,577.8 1544.4,575.9 1549.2,575.2C1554.0,574.5 1562.3,573.9 1563.6,574.6C1565.0,575.2 1561.2,578.1 1557.5,579.3C1553.7,580.5 1544.7,582.0 1541.0,582.0C1537.2,581.9 1533.4,580.0 1534.8,578.9Z" fill="#0010f0"/>
<path d="M1522.4,571.7C1522.8,571.1 1529.6,569.8 1532.7,569.6C1535.8,569.4 1541.3,569.8 1541.0,570.4C1540.6,571.1 1533.8,573.1 1530.7,573.3C1527.6,573.5 1522.1,572.3 1522.4,571.7Z" fill="#0010f0"/>
<path d="M1578.0,596.4C1572.9,595.9 1587.3,594.3 1592.5,593.7C1597.6,593.2 1603.8,592.7 1608.9,593.1C1614.1,593.5 1628.5,595.8 1623.4,596.4C1618.2,596.9 1583.2,596.8 1578.0,596.4Z" fill="#0010f0"/>
<path d="M981.2,539.5C997.3,537.1 1048.1,539.1 1078.0,539.1C1107.9,539.1 1141.8,538.8 1160.4,539.5C1178.9,540.3 1190.9,542.0 1189.2,543.7C1187.5,545.3 1165.2,547.7 1150.1,549.4C1135.0,551.2 1112.3,552.7 1098.6,554.0C1084.9,555.3 1078.0,557.3 1067.7,557.3C1057.4,557.3 1047.1,554.2 1036.8,554.0C1026.5,553.7 1015.2,555.6 1005.9,555.6C996.6,555.6 985.3,556.6 981.2,554.0C977.1,551.3 965.0,542.0 981.2,539.5Z" fill="#10e010"/>
<path d="M1255.1,584.0C1254.8,583.4 1263.0,582.4 1267.5,582.4C1271.9,582.4 1281.6,583.4 1281.9,584.0C1282.2,584.7 1274.0,586.1 1269.5,586.1C1265.1,586.1 1255.5,584.7 1255.1,584.0Z" fill="#10e010"/>
<path d="M1335.0,547.8C1339.1,547.0 1354.6,546.5 1359.7,547.0C1364.9,547.4 1368.0,549.5 1365.9,550.5C1363.8,551.4 1352.5,552.4 1347.4,552.5C1342.2,552.7 1337.1,552.3 1335.0,551.5C1332.9,550.7 1330.9,548.5 1335.0,547.8Z" fill="#10e010"/>
<path d="M1376.2,554.0C1381.3,553.2 1399.5,552.7 1405.0,553.1C1410.5,553.6 1412.2,555.5 1409.2,556.6C1406.1,557.7 1392.3,559.6 1386.5,559.7C1380.7,559.9 1375.9,558.6 1374.1,557.7C1372.4,556.7 1371.0,554.7 1376.2,554.0Z" fill="#10e010"/>
<path d="M1016.2,544.3C1025.8,543.8 1068.4,543.4 1078.0,543.7C1087.6,543.9 1083.5,545.2 1073.9,545.7C1064.3,546.2 1029.9,546.8 1020.3,546.5C1010.7,546.3 1006.6,544.8 1016.2,544.3Z" fill="#60f040"/>
<path d="M1086.2,592.1C1095.8,589.9 1120.6,585.7 1139.8,582.8C1159.0,579.9 1181.0,576.8 1201.6,574.6C1222.2,572.3 1253.8,569.1 1263.4,569.4C1273.0,569.7 1266.1,574.0 1259.2,576.2C1252.4,578.4 1235.2,580.7 1222.2,582.8C1209.1,584.9 1194.7,586.9 1181.0,589.0C1167.2,591.0 1153.5,593.8 1139.8,595.2C1126.0,596.5 1108.2,597.1 1098.6,597.2C1089.0,597.4 1084.2,596.8 1082.1,596.0C1080.0,595.1 1076.6,594.3 1086.2,592.1Z" fill="#7d6a2a"/>
<path d="M1067.7,569.6C1071.8,569.0 1089.3,568.1 1098.6,567.6C1107.9,567.0 1123.3,565.9 1123.3,566.3C1123.3,566.7 1106.8,569.2 1098.6,570.0C1090.3,570.9 1079.0,571.3 1073.9,571.3C1068.7,571.2 1063.6,570.2 1067.7,569.6Z" fill="#7d6a2a"/>
<path d="M1150.1,578.3C1154.5,577.4 1176.5,575.1 1181.0,575.2C1185.4,575.2 1181.3,577.8 1176.9,578.7C1172.4,579.5 1158.7,580.4 1154.2,580.3C1149.7,580.3 1145.6,579.1 1150.1,578.3Z" fill="#7d6a2a"/>
<path d="M1421.5,591.0C1425.6,589.7 1446.2,586.6 1458.6,584.9C1470.9,583.1 1488.8,580.4 1495.7,580.3C1502.5,580.3 1502.5,582.7 1499.8,584.4C1497.0,586.2 1484.7,588.7 1479.2,590.6C1473.7,592.6 1470.3,596.0 1466.8,596.2C1463.4,596.4 1464.1,592.2 1458.6,591.7C1453.1,591.1 1440.0,592.8 1433.9,592.7C1427.7,592.6 1417.4,592.3 1421.5,591.0Z" fill="#7d6a2a"/>
<path d="M1335.0,538.7L1694.4,538.7L1694.4,560.1L1664.6,554.0L1623.4,558.1L1602.8,551.9L1561.6,549.8L1520.4,551.9L1499.8,545.7L1458.6,544.5L1396.8,544.1L1335.0,543.7Z" fill="#7d6a2a"/>
<rect x="981" y="522.7" width="713.5" height="14.6" fill="#7d6a2a"/>
<rect x="1376" y="525" width="318" height="3" fill="#40a030" opacity="0.8"/>
<rect x="1400" y="529" width="294" height="3.4" fill="#18d018"/>
<rect x="1610" y="529" width="80" height="3" fill="#0030e0"/>
<rect x="1335" y="532.5" width="240" height="2.6" fill="#e8c020"/>
<defs><linearGradient id="gline" x1="0" x2="1" y1="0" y2="0"><stop offset="0" stop-color="#e0c080"/><stop offset="0.2" stop-color="#d09040"/><stop offset="0.35" stop-color="#e86020"/><stop offset="0.55" stop-color="#f0a020"/><stop offset="0.75" stop-color="#f0c020"/><stop offset="1" stop-color="#a0c030"/></linearGradient></defs>
<rect x="981" y="535.6" width="713.5" height="3.2" fill="url(#gline)"/>
<rect x="1100" y="538.5" width="150" height="1.6" fill="#c03030" opacity="0.8"/>
<rect x="1335" y="540" width="290" height="1.4" fill="#c03030" opacity="0.8"/>
<rect x="981" y="597" width="713.5" height="3.5" fill="#161616"/>
</g>
<path d="M981,80 Q1280.25,160.25 1579.5,232.5" fill="none" stroke="#d0d0d0" stroke-width="1.1" opacity="0.8"/>
<path d="M981,132.5 Q1281.125,204.25 1581.25,268" fill="none" stroke="#d0d0d0" stroke-width="1.1" opacity="0.8"/>
<path d="M981,186 Q1282.0,248.875 1583,303.75" fill="none" stroke="#d0d0d0" stroke-width="1.1" opacity="0.8"/>
<path d="M981,241.5 Q1283.0,294.75 1585,340" fill="none" stroke="#d0d0d0" stroke-width="1.1" opacity="0.8"/>
<path d="M981,299 Q1284.75,341.5 1588.5,376" fill="none" stroke="#d0d0d0" stroke-width="1.1" opacity="0.8"/>
<path d="M981,356.5 Q1286.0,389.75 1591,415" fill="none" stroke="#d0d0d0" stroke-width="1.1" opacity="0.8"/>
<path d="M981,415 Q1287.25,439.0 1593.5,455" fill="none" stroke="#d0d0d0" stroke-width="1.1" opacity="0.8"/>
<path d="M981,476.5 Q1288.5,488.5 1596,492.5" fill="none" stroke="#d0d0d0" stroke-width="1.1" opacity="0.8"/>
<path d="M1579.5,232.5 L1598.75,532.5" stroke="#bdbdbd" stroke-width="1.1" fill="none"/>
<path d="M1338.75,151.5 L1236,452.5" stroke="#ffffff" stroke-width="2.6" stroke-linecap="round" fill="none"/>
<text x="1350" y="143.75" font-family="'Liberation Sans',sans-serif" font-weight="bold" font-size="25px" fill="#ffffff" textLength="331" lengthAdjust="spacingAndGlyphs">Bounded Weak Echo Region</text>
</g></g>
<g id="pc">
<defs><clipPath id="pcclip"><rect x="112" y="826.5" width="588.5" height="516"/></clipPath></defs>
<g clip-path="url(#pcclip)">
<path d="M332.5,970.0C334.8,965.4 342.1,964.6 347.5,962.5C352.9,960.4 359.6,958.8 365.0,957.5C370.4,956.2 374.2,957.1 380.0,955.0C385.8,952.9 394.2,948.8 400.0,945.0C405.8,941.2 410.0,935.8 415.0,932.5C420.0,929.2 424.2,926.7 430.0,925.0C435.8,923.3 443.3,922.9 450.0,922.5C456.7,922.1 465.8,924.2 470.0,922.5C474.2,920.8 474.2,915.6 475.0,912.5C475.8,909.4 472.9,905.8 475.0,903.8C477.1,901.7 482.5,900.8 487.5,900.0C492.5,899.2 500.4,900.4 505.0,898.8C509.6,897.1 510.8,893.1 515.0,890.0C519.2,886.9 523.3,882.7 530.0,880.0C536.7,877.3 546.7,874.6 555.0,873.8C563.3,872.9 571.7,873.5 580.0,875.0C588.3,876.5 597.5,879.2 605.0,882.5C612.5,885.8 619.2,890.4 625.0,895.0C630.8,899.6 635.8,904.6 640.0,910.0C644.2,915.4 647.1,920.8 650.0,927.5C652.9,934.2 655.4,942.1 657.5,950.0C659.6,957.9 660.8,966.7 662.5,975.0C664.2,983.3 666.9,992.5 667.5,1000.0C668.1,1007.5 667.9,1013.3 666.2,1020.0C664.6,1026.7 660.6,1033.8 657.5,1040.0C654.4,1046.2 651.7,1052.1 647.5,1057.5C643.3,1062.9 637.5,1067.9 632.5,1072.5C627.5,1077.1 623.3,1080.8 617.5,1085.0C611.7,1089.2 603.7,1093.1 597.5,1097.5C591.3,1101.9 584.0,1107.3 580.5,1111.2C577.0,1115.2 577.5,1117.3 576.2,1121.2C575.0,1125.2 576.5,1131.7 573.2,1135.0C570.0,1138.3 563.6,1139.2 557.0,1141.0C550.4,1142.8 541.9,1145.9 533.5,1146.0C525.1,1146.1 514.0,1142.8 506.5,1141.5C499.0,1140.2 495.1,1139.2 488.5,1138.0C481.9,1136.8 472.8,1136.6 466.8,1134.5C460.7,1132.4 457.7,1129.1 452.2,1125.5C446.8,1121.9 441.5,1115.8 434.2,1113.0C427.0,1110.2 413.5,1111.5 409.0,1108.5C404.5,1105.5 410.0,1099.1 407.0,1095.0C404.0,1090.9 395.2,1087.1 390.8,1083.8C386.2,1080.4 384.7,1077.7 380.0,1075.0C375.3,1072.3 367.5,1070.8 362.5,1067.5C357.5,1064.2 352.9,1059.6 350.0,1055.0C347.1,1050.4 345.4,1045.0 345.0,1040.0C344.6,1035.0 348.8,1029.6 347.5,1025.0C346.2,1020.4 339.8,1018.3 337.5,1012.5C335.2,1006.7 334.6,997.1 333.8,990.0C332.9,982.9 330.2,974.6 332.5,970.0Z" fill="#6f8fe8" stroke="#0a14f0" stroke-width="2.2"/>
<path d="M360.0,992.5C362.4,988.1 367.9,981.2 372.5,976.2C377.1,971.3 382.1,967.4 387.5,963.0C392.9,958.6 399.2,954.2 405.0,950.0C410.8,945.8 416.7,940.8 422.5,937.5C428.3,934.2 433.8,932.1 440.0,930.0C446.2,927.9 454.2,927.5 460.0,925.0C465.8,922.5 472.1,918.1 475.0,915.0C477.9,911.9 475.4,908.5 477.5,906.2C479.6,904.0 482.9,902.3 487.5,901.2C492.1,900.2 500.2,901.7 505.0,900.0C509.8,898.3 512.1,894.4 516.2,891.2C520.4,888.1 523.5,884.0 530.0,881.2C536.5,878.5 546.7,875.8 555.0,875.0C563.3,874.2 571.7,874.8 580.0,876.2C588.3,877.7 597.6,880.4 605.0,883.8C612.4,887.1 618.8,891.8 624.5,896.2C630.2,900.8 634.9,905.5 639.0,910.8C643.1,916.0 646.1,921.4 649.0,928.0C651.9,934.6 654.4,942.7 656.5,950.5C658.6,958.3 659.9,966.8 661.5,975.0C663.1,983.2 665.7,992.5 666.2,1000.0C666.8,1007.5 666.6,1013.4 665.0,1020.0C663.4,1026.6 659.6,1033.4 656.5,1039.5C653.4,1045.6 650.6,1051.4 646.5,1056.8C642.4,1062.1 636.7,1067.2 631.8,1071.8C626.8,1076.3 622.6,1079.9 616.8,1084.0C610.9,1088.1 603.1,1092.2 596.8,1096.5C590.4,1100.8 582.7,1106.1 578.8,1110.0C574.8,1113.9 574.5,1116.5 573.0,1120.0C571.5,1123.5 573.0,1128.3 570.0,1131.2C567.0,1134.2 561.1,1135.7 555.0,1137.5C548.9,1139.3 541.4,1141.9 533.5,1142.0C525.6,1142.1 514.8,1139.2 507.5,1138.0C500.2,1136.8 496.2,1135.8 490.0,1134.5C483.8,1133.2 475.8,1132.0 470.0,1130.0C464.2,1128.0 460.0,1125.6 455.0,1122.5C450.0,1119.4 445.8,1114.6 440.0,1111.2C434.2,1107.9 425.8,1106.0 420.0,1102.5C414.2,1099.0 410.0,1095.0 405.0,1090.0C400.0,1085.0 394.6,1077.5 390.0,1072.5C385.4,1067.5 381.2,1064.2 377.5,1060.0C373.8,1055.8 370.2,1052.1 367.5,1047.5C364.8,1042.9 362.7,1037.9 361.2,1032.5C359.8,1027.1 359.3,1020.0 358.8,1015.0C358.2,1010.0 357.8,1006.2 358.0,1002.5C358.2,998.8 357.6,996.9 360.0,992.5Z" fill="#00ffff"/>
<path d="M382.5,1010.0C383.5,1003.8 386.7,994.2 390.0,987.5C393.3,980.8 397.9,975.4 402.5,970.0C407.1,964.6 412.1,959.8 417.5,955.0C422.9,950.2 428.8,945.3 435.0,941.2C441.2,937.2 448.3,934.2 455.0,930.5C461.7,926.8 470.8,922.4 475.0,918.8C479.2,915.1 477.5,911.4 480.0,908.8C482.5,906.1 485.8,904.2 490.0,903.0C494.2,901.8 500.4,903.2 505.0,901.5C509.6,899.8 513.3,896.1 517.5,893.0C521.7,889.9 523.8,885.8 530.0,883.0C536.2,880.2 546.7,877.4 555.0,876.5C563.3,875.6 571.8,876.3 580.0,877.8C588.2,879.2 597.2,882.0 604.5,885.2C611.8,888.5 618.0,893.1 623.5,897.5C629.0,901.9 633.5,906.5 637.5,911.8C641.5,917.0 644.6,922.2 647.5,928.8C650.4,935.3 652.9,943.3 655.0,951.0C657.1,958.7 658.4,966.8 660.0,975.0C661.6,983.2 664.0,992.5 664.5,1000.0C665.0,1007.5 664.8,1013.5 663.2,1020.0C661.7,1026.5 658.0,1032.8 655.0,1038.8C652.0,1044.7 649.1,1050.5 645.0,1055.8C640.9,1061.0 635.4,1066.0 630.5,1070.5C625.6,1075.0 621.6,1078.6 615.8,1082.8C609.9,1086.9 602.1,1091.1 595.5,1095.2C588.9,1099.4 582.2,1104.1 576.2,1107.5C570.3,1110.9 566.0,1113.3 560.0,1115.5C554.0,1117.7 547.1,1119.5 540.0,1120.5C532.9,1121.5 525.0,1121.9 517.5,1121.5C510.0,1121.1 502.1,1119.9 495.0,1118.0C487.9,1116.1 481.7,1113.2 475.0,1110.0C468.3,1106.8 461.7,1102.9 455.0,1098.8C448.3,1094.6 441.2,1089.8 435.0,1085.0C428.8,1080.2 422.9,1075.0 417.5,1070.0C412.1,1065.0 407.1,1060.0 402.5,1055.0C397.9,1050.0 393.1,1045.0 390.0,1040.0C386.9,1035.0 385.0,1030.0 383.8,1025.0C382.5,1020.0 381.5,1016.2 382.5,1010.0Z" fill="#00ff00"/>
<path d="M410.0,1010.0C409.6,1003.8 410.4,996.7 412.5,990.0C414.6,983.3 417.9,976.7 422.5,970.0C427.1,963.3 432.9,956.2 440.0,950.0C447.1,943.8 457.1,937.5 465.0,932.5C472.9,927.5 480.0,924.2 487.5,920.0C495.0,915.8 502.9,911.7 510.0,907.5C517.1,903.3 524.6,897.3 530.0,895.0C535.4,892.7 539.2,892.5 542.5,893.8C545.8,895.0 547.9,899.4 550.0,902.5C552.1,905.6 550.0,910.0 555.0,912.5C560.0,915.0 571.7,916.2 580.0,917.5C588.3,918.8 598.8,918.3 605.0,920.0C611.2,921.7 613.3,923.8 617.5,927.5C621.7,931.2 626.2,936.7 630.0,942.5C633.8,948.3 637.5,955.4 640.0,962.5C642.5,969.6 644.0,977.9 645.0,985.0C646.0,992.1 647.1,998.3 646.2,1005.0C645.4,1011.7 642.7,1018.8 640.0,1025.0C637.3,1031.2 634.2,1037.1 630.0,1042.5C625.8,1047.9 620.4,1052.9 615.0,1057.5C609.6,1062.1 603.3,1066.2 597.5,1070.0C591.7,1073.8 587.1,1077.1 580.0,1080.0C572.9,1082.9 563.3,1086.7 555.0,1087.5C546.7,1088.3 538.3,1086.2 530.0,1085.0C521.7,1083.8 513.3,1082.1 505.0,1080.0C496.7,1077.9 488.8,1075.8 480.0,1072.5C471.2,1069.2 460.8,1064.6 452.5,1060.0C444.2,1055.4 436.2,1050.4 430.0,1045.0C423.8,1039.6 418.3,1033.3 415.0,1027.5C411.7,1021.7 410.4,1016.2 410.0,1010.0Z" fill="#ffff00"/>
<path d="M501.3,951.7C505.3,949.4 510.3,947.2 514.8,944.9C519.3,942.6 523.8,940.0 528.4,938.1C532.9,936.2 536.9,934.5 541.9,933.4C546.9,932.3 554.3,931.2 558.2,931.4C562.0,931.5 563.5,932.5 564.9,934.1C566.4,935.6 566.3,938.6 567.0,940.8C567.6,943.1 567.5,946.0 569.0,947.6C570.5,949.2 573.3,949.6 575.8,950.3C578.2,951.0 581.6,950.5 583.9,951.7C586.1,952.8 587.7,954.6 589.3,957.1C590.9,959.6 592.0,963.2 593.4,966.6C594.7,970.0 596.4,974.0 597.4,977.4C598.5,980.8 599.7,983.7 599.5,986.9C599.2,990.0 597.8,993.4 596.1,996.4C594.4,999.3 591.6,1002.0 589.3,1004.5C587.1,1007.0 585.2,1009.2 582.5,1011.3C579.8,1013.3 576.4,1015.2 573.1,1016.7C569.7,1018.2 566.3,1018.9 562.2,1020.1C558.2,1021.2 553.0,1022.7 548.7,1023.5C544.4,1024.2 539.9,1025.0 536.5,1024.8C533.1,1024.6 531.1,1022.6 528.4,1022.1C525.6,1021.7 522.9,1021.9 520.2,1022.1C517.5,1022.3 514.8,1023.2 512.1,1023.5C509.4,1023.7 506.2,1022.8 504.0,1023.5C501.7,1024.1 499.9,1025.7 498.6,1027.5C497.2,1029.3 495.6,1032.3 495.8,1034.3C496.1,1036.3 500.4,1038.6 499.9,1039.7C499.5,1040.8 495.6,1041.1 493.1,1041.1C490.7,1041.1 487.3,1040.2 485.0,1039.7C482.8,1039.3 481.9,1037.9 479.6,1038.4C477.3,1038.8 474.6,1041.7 471.5,1042.4C468.3,1043.1 464.0,1042.9 460.6,1042.4C457.2,1042.0 454.3,1041.1 451.2,1039.7C448.0,1038.4 444.4,1036.3 441.7,1034.3C439.0,1032.3 436.0,1030.2 434.9,1027.5C433.8,1024.8 434.0,1021.7 434.9,1018.0C435.8,1014.4 438.3,1010.1 440.3,1005.8C442.3,1001.6 444.4,996.4 447.1,992.3C449.8,988.2 453.2,984.9 456.6,981.5C460.0,978.1 463.3,974.9 467.4,972.0C471.5,969.1 477.1,966.1 481.0,963.9C484.8,961.6 487.0,960.5 490.4,958.4C493.8,956.4 497.2,953.9 501.3,951.7Z" fill="#ff6600"/>
<path d="M434.9,1023.5C434.4,1019.4 438.3,1013.5 440.3,1008.6C442.3,1003.6 444.6,997.9 447.1,993.7C449.6,989.4 452.3,986.0 455.2,982.8C458.2,979.7 461.1,977.2 464.7,974.7C468.3,972.2 472.6,969.8 476.9,967.9C481.2,966.0 486.4,964.1 490.4,963.2C494.5,962.3 497.2,961.5 501.3,962.5C505.3,963.5 510.7,966.3 514.8,969.3C518.9,972.2 522.9,976.5 525.6,980.1C528.4,983.7 528.4,988.5 531.1,991.0C533.8,993.4 538.3,994.1 541.9,995.0C545.5,995.9 549.8,995.2 552.7,996.4C555.7,997.5 558.0,999.8 559.5,1001.8C561.0,1003.8 561.8,1006.3 561.5,1008.6C561.3,1010.8 560.3,1013.5 558.2,1015.3C556.0,1017.1 551.8,1018.9 548.7,1019.4C545.5,1019.8 541.9,1018.9 539.2,1018.0C536.5,1017.1 534.5,1015.3 532.4,1014.0C530.4,1012.6 528.6,1011.7 527.0,1009.9C525.4,1008.1 524.1,1005.2 522.9,1003.1C521.8,1001.1 521.6,999.3 520.2,997.7C518.9,996.1 517.1,994.8 514.8,993.7C512.6,992.5 509.8,991.6 506.7,991.0C503.5,990.3 499.5,989.8 495.8,989.6C492.2,989.4 487.7,988.9 485.0,989.6C482.3,990.3 479.8,991.4 479.6,993.7C479.4,995.9 481.9,1000.2 483.7,1003.1C485.5,1006.1 489.1,1008.6 490.4,1011.3C491.8,1014.0 492.7,1017.1 491.8,1019.4C490.9,1021.7 487.0,1023.0 485.0,1024.8C483.0,1026.6 480.0,1028.2 479.6,1030.2C479.1,1032.3 483.2,1035.4 482.3,1037.0C481.4,1038.6 477.3,1039.0 474.2,1039.7C471.0,1040.4 467.0,1041.3 463.3,1041.1C459.7,1040.8 455.9,1039.7 452.5,1038.4C449.1,1037.0 446.0,1035.4 443.0,1032.9C440.1,1030.5 435.4,1027.5 434.9,1023.5Z" fill="#ff0000"/>
<path d="M447.1,992.3C448.4,988.7 450.9,986.4 453.9,984.2C456.8,981.9 461.3,979.4 464.7,978.8C468.1,978.1 473.3,979.0 474.2,980.1C475.1,981.2 471.9,983.7 470.1,985.5C468.3,987.3 465.1,988.9 463.3,991.0C461.5,993.0 460.0,995.5 459.3,997.7C458.6,1000.0 458.2,1003.1 459.3,1004.5C460.4,1005.8 463.6,1005.2 466.1,1005.8C468.5,1006.5 472.1,1007.2 474.2,1008.6C476.2,1009.9 477.8,1011.5 478.2,1014.0C478.7,1016.5 477.3,1020.3 476.9,1023.5C476.4,1026.6 477.1,1030.5 475.5,1032.9C474.0,1035.4 470.3,1037.5 467.4,1038.4C464.5,1039.3 460.6,1039.0 457.9,1038.4C455.2,1037.7 452.7,1036.6 451.2,1034.3C449.6,1032.0 448.7,1028.2 448.4,1024.8C448.2,1021.4 450.2,1017.1 449.8,1014.0C449.3,1010.8 446.2,1009.5 445.7,1005.8C445.3,1002.2 445.7,995.9 447.1,992.3Z" fill="#cc3300"/>
<ellipse cx="506.7" cy="997.0" rx="17.6" ry="4.3" fill="#ff6600" transform="rotate(-6 506.7 997.0)" />
<ellipse cx="504.0" cy="997.7" rx="14.9" ry="3.0" fill="#ffff00" transform="rotate(-6 504.0 997.7)" />
<ellipse cx="508.0" cy="996.6" rx="5.4" ry="1.4" fill="#00ff00" transform="rotate(-4 508.0 996.6)" />
<ellipse cx="509.4" cy="1012.6" rx="17.6" ry="5.1" fill="#ff6600" transform="rotate(4 509.4 1012.6)" />
<ellipse cx="508.0" cy="1012.4" rx="13.5" ry="3.8" fill="#ffff00" transform="rotate(4 508.0 1012.4)" />
<ellipse cx="508.7" cy="1012.2" rx="8.1" ry="2.3" fill="#00ff00" transform="rotate(3 508.7 1012.2)" />
<ellipse cx="509.4" cy="1012.2" rx="4.7" ry="1.2" fill="#00ffff" transform="rotate(3 509.4 1012.2)" />
<ellipse cx="472.8" cy="993.0" rx="6.8" ry="2.7" fill="#ff6600" transform="rotate(-25 472.8 993.0)" />
<ellipse cx="464.7" cy="1022.1" rx="4.1" ry="2.2" fill="#ff0000" transform="rotate(-20 464.7 1022.1)" />
<ellipse cx="533.8" cy="1052.6" rx="12.2" ry="3.5" fill="#ff6600" transform="rotate(8 533.8 1052.6)" />
<ellipse cx="600.1" cy="1025.5" rx="12.9" ry="3.0" fill="#00ff00" transform="rotate(-42 600.1 1025.5)" />
<ellipse cx="495.8" cy="1018.0" rx="16.3" ry="4.1" fill="#ff6600" transform="rotate(-10 495.8 1018.0)" />
<path d="M520.0,1076.2C520.8,1075.6 528.3,1078.1 532.5,1078.0C536.7,1077.9 542.1,1075.7 545.0,1075.5C547.9,1075.3 550.8,1076.0 550.0,1077.0C549.2,1078.0 543.8,1080.4 540.0,1081.2C536.2,1082.1 530.8,1082.8 527.5,1082.0C524.2,1081.2 519.2,1076.9 520.0,1076.2Z" fill="#00ff00"/>
<ellipse cx="411.9" cy="941.8" rx="6.1" ry="2.4" fill="#0a14f0" transform="rotate(-40 411.9 941.8)" />
<ellipse cx="423.4" cy="938.4" rx="3.0" ry="2.2" fill="#0a14f0" transform="rotate(-30 423.4 938.4)" />
<ellipse cx="384.8" cy="963.5" rx="5.4" ry="1.8" fill="#0a14f0" transform="rotate(-50 384.8 963.5)" />
<ellipse cx="365.8" cy="960.7" rx="4.1" ry="1.6" fill="#0a14f0" transform="rotate(-55 365.8 960.7)" />
<ellipse cx="346.9" cy="968.9" rx="3.8" ry="1.6" fill="#0a14f0" transform="rotate(-60 346.9 968.9)" />
<ellipse cx="380.1" cy="978.4" rx="1.9" ry="3.0" fill="#0a14f0" />
<ellipse cx="386.8" cy="964.8" rx="1.6" ry="2.7" fill="#0a14f0" />
<ellipse cx="330.6" cy="972.9" rx="3.0" ry="3.8" fill="#0a14f0" transform="rotate(-20 330.6 972.9)" />
<ellipse cx="436.3" cy="925.5" rx="4.1" ry="1.6" fill="#0a14f0" transform="rotate(-20 436.3 925.5)" />
<rect x="412.6" y="945.8" width="6" height="4.6" fill="#fff"/>
<clipPath id="stormclip"><path d="M332.5,970.0C334.8,965.4 342.1,964.6 347.5,962.5C352.9,960.4 359.6,958.8 365.0,957.5C370.4,956.2 374.2,957.1 380.0,955.0C385.8,952.9 394.2,948.8 400.0,945.0C405.8,941.2 410.0,935.8 415.0,932.5C420.0,929.2 424.2,926.7 430.0,925.0C435.8,923.3 443.3,922.9 450.0,922.5C456.7,922.1 465.8,924.2 470.0,922.5C474.2,920.8 474.2,915.6 475.0,912.5C475.8,909.4 472.9,905.8 475.0,903.8C477.1,901.7 482.5,900.8 487.5,900.0C492.5,899.2 500.4,900.4 505.0,898.8C509.6,897.1 510.8,893.1 515.0,890.0C519.2,886.9 523.3,882.7 530.0,880.0C536.7,877.3 546.7,874.6 555.0,873.8C563.3,872.9 571.7,873.5 580.0,875.0C588.3,876.5 597.5,879.2 605.0,882.5C612.5,885.8 619.2,890.4 625.0,895.0C630.8,899.6 635.8,904.6 640.0,910.0C644.2,915.4 647.1,920.8 650.0,927.5C652.9,934.2 655.4,942.1 657.5,950.0C659.6,957.9 660.8,966.7 662.5,975.0C664.2,983.3 666.9,992.5 667.5,1000.0C668.1,1007.5 667.9,1013.3 666.2,1020.0C664.6,1026.7 660.6,1033.8 657.5,1040.0C654.4,1046.2 651.7,1052.1 647.5,1057.5C643.3,1062.9 637.5,1067.9 632.5,1072.5C627.5,1077.1 623.3,1080.8 617.5,1085.0C611.7,1089.2 603.7,1093.1 597.5,1097.5C591.3,1101.9 584.0,1107.3 580.5,1111.2C577.0,1115.2 577.5,1117.3 576.2,1121.2C575.0,1125.2 576.5,1131.7 573.2,1135.0C570.0,1138.3 563.6,1139.2 557.0,1141.0C550.4,1142.8 541.9,1145.9 533.5,1146.0C525.1,1146.1 514.0,1142.8 506.5,1141.5C499.0,1140.2 495.1,1139.2 488.5,1138.0C481.9,1136.8 472.8,1136.6 466.8,1134.5C460.7,1132.4 457.7,1129.1 452.2,1125.5C446.8,1121.9 441.5,1115.8 434.2,1113.0C427.0,1110.2 413.5,1111.5 409.0,1108.5C404.5,1105.5 410.0,1099.1 407.0,1095.0C404.0,1090.9 395.2,1087.1 390.8,1083.8C386.2,1080.4 384.7,1077.7 380.0,1075.0C375.3,1072.3 367.5,1070.8 362.5,1067.5C357.5,1064.2 352.9,1059.6 350.0,1055.0C347.1,1050.4 345.4,1045.0 345.0,1040.0C344.6,1035.0 348.8,1029.6 347.5,1025.0C346.2,1020.4 339.8,1018.3 337.5,1012.5C335.2,1006.7 334.6,997.1 333.8,990.0C332.9,982.9 330.2,974.6 332.5,970.0Z"/></clipPath><g clip-path="url(#stormclip)">
<path d="M490.5,1056.1A50.0,50.0 0 0 1 438.3,971.0" fill="none" stroke="#00ff00" stroke-width="2.0" stroke-dasharray="9 3 12 2 5 2 9 2" stroke-dashoffset="16" opacity="0.9"/>
<path d="M494.0,1062.9A57.6,57.6 0 0 1 434.0,964.8" fill="none" stroke="#00ff00" stroke-width="2.0" stroke-dasharray="7 2 5 6 12 2 7 2" stroke-dashoffset="17" opacity="0.9"/>
<path d="M497.6,1069.6A65.2,65.2 0 0 1 429.6,958.6" fill="none" stroke="#ffff00" stroke-width="2.4" stroke-dasharray="12 2 16 2 7 2 16 6" stroke-dashoffset="1" opacity="0.95"/>
<path d="M501.2,1076.3A72.8,72.8 0 0 1 425.2,952.4" fill="none" stroke="#00ffff" stroke-width="2.4" stroke-dasharray="7 2 16 3 9 6 7 2" stroke-dashoffset="18" opacity="0.95"/>
<path d="M504.7,1083.0A80.4,80.4 0 0 1 420.9,946.1" fill="none" stroke="#ffff00" stroke-width="2.4" stroke-dasharray="9 3 5 3 9 2 16 2" stroke-dashoffset="18" opacity="0.95"/>
<path d="M508.3,1089.7A88.0,88.0 0 0 1 416.5,939.9" fill="none" stroke="#ffffff" stroke-width="2.6" stroke-dasharray="5 3 12 6 9 6 16 6" stroke-dashoffset="11" opacity="0.95"/>
<path d="M511.9,1096.4A95.6,95.6 0 1 1 453.7,917.3" fill="none" stroke="#00ff00" stroke-width="2.6" stroke-dasharray="9 3 7 3 5 4 16 6" stroke-dashoffset="10" opacity="0.95"/>
<path d="M515.4,1103.1A103.2,103.2 0 1 1 452.6,909.8" fill="none" stroke="#ffffff" stroke-width="2.6" stroke-dasharray="22 6 9 2 5 6 7 4" stroke-dashoffset="4" opacity="0.95"/>
<path d="M519.0,1109.8A110.8,110.8 0 1 1 451.6,902.3" fill="none" stroke="#ffffff" stroke-width="3.0" stroke-dasharray="12 6 5 2 16 4 9 4" stroke-dashoffset="19" opacity="1"/>
<path d="M522.6,1116.5A118.4,118.4 0 1 1 450.5,894.8" fill="none" stroke="#ffffff" stroke-width="3.0" stroke-dasharray="12 6 5 2 9 6 22 2" stroke-dashoffset="1" opacity="1"/>
<path d="M510.1,1130.4A126.0,126.0 0 1 1 449.5,887.2" fill="none" stroke="#ffffff" stroke-width="3.0" stroke-dasharray="22 4 22 6 9 6 22 4" stroke-dashoffset="0" opacity="1"/>
<path d="M512.7,1137.5A133.6,133.6 0 1 1 448.4,879.7" fill="none" stroke="#ffffff" stroke-width="3.0" stroke-dasharray="12 4 7 2 12 2 7 4" stroke-dashoffset="4" opacity="1"/>
<path d="M515.3,1144.7A141.2,141.2 0 1 1 447.3,872.2" fill="none" stroke="#ffffff" stroke-width="3.0" stroke-dasharray="22 3 12 6 12 2 7 6" stroke-dashoffset="12" opacity="1"/>
<path d="M517.9,1151.8A148.8,148.8 0 1 1 446.3,864.6" fill="none" stroke="#ffffff" stroke-width="3.0" stroke-dasharray="16 4 7 6 16 4 22 6" stroke-dashoffset="11" opacity="1"/>
<path d="M520.5,1159.0A156.4,156.4 0 1 1 445.2,857.1" fill="none" stroke="#ffffff" stroke-width="3.0" stroke-dasharray="22 6 7 3 5 3 7 3" stroke-dashoffset="7" opacity="1"/>
<path d="M523.1,1166.1A164.0,164.0 0 1 1 444.2,849.6" fill="none" stroke="#ffffff" stroke-width="3.0" stroke-dasharray="5 6 16 3 9 4 5 3" stroke-dashoffset="13" opacity="1"/>
<path d="M525.7,1173.3A171.6,171.6 0 1 1 443.1,842.1" fill="none" stroke="#ffffff" stroke-width="3.0" stroke-dasharray="16 4 16 4 7 2 12 6" stroke-dashoffset="12" opacity="1"/>
<path d="M528.3,1180.4A179.2,179.2 0 1 1 442.1,834.5" fill="none" stroke="#ffffff" stroke-width="3.0" stroke-dasharray="12 6 5 6 22 6 5 3" stroke-dashoffset="2" opacity="1"/>
</g>
</g>
<ellipse cx="506.4" cy="1152.9" rx="15.9" ry="4.3" fill="#00ffff" stroke="#0a14f0" stroke-width="1.6"/>
<ellipse cx="544.7" cy="1155.6" rx="7.2" ry="5.1" fill="#00ffff" stroke="#0a14f0" stroke-width="1.6"/>
<ellipse cx="594.9" cy="1104.1" rx="4.0" ry="4.0" fill="#00ffff" stroke="#0a14f0" stroke-width="1.6"/>
<ellipse cx="394.4" cy="1084.2" rx="4.0" ry="4.0" fill="#00ffff" stroke="#0a14f0" stroke-width="1.6"/>
<ellipse cx="459.5" cy="1141.1" rx="4.0" ry="3.6" fill="#00ffff" stroke="#0a14f0" stroke-width="1.6"/>
<ellipse cx="452.2" cy="1124.9" rx="3.6" ry="3.3" fill="#00ffff" stroke="#0a14f0" stroke-width="1.6"/>
<ellipse cx="411.6" cy="1110.4" rx="4.0" ry="3.6" fill="#00ffff" stroke="#0a14f0" stroke-width="1.6"/>
<circle cx="440.7" cy="908" r="3.4" fill="#6f8fe8" stroke="#0a14f0" stroke-width="1.4"/>
<circle cx="465" cy="913.4" r="3.4" fill="#6f8fe8" stroke="#0a14f0" stroke-width="1.4"/>
<path d="M317.5,975.0C318.5,975.2 319.8,977.5 321.2,980.0C322.7,982.5 325.6,986.7 326.2,990.0C326.9,993.3 325.8,996.7 325.0,1000.0C324.2,1003.3 322.5,1007.3 321.2,1010.0C320.0,1012.7 318.5,1016.2 317.5,1016.2C316.5,1016.2 314.6,1012.7 315.0,1010.0C315.4,1007.3 319.0,1002.9 320.0,1000.0C321.0,997.1 321.7,995.0 321.2,992.5C320.8,990.0 318.5,987.3 317.5,985.0C316.5,982.7 315.5,980.4 315.5,978.8C315.5,977.1 316.5,974.8 317.5,975.0Z" fill="#0a14f0"/>
<ellipse cx="305.0" cy="1003.0" rx="2.5" ry="3.2" fill="#0a14f0" />
<path d="M108.5,825.8 H708 M111.3,819.5 V1345.5 M108.5,1343 H708 M701.3,819.5 V1345.5" stroke="#444" stroke-width="1.4" fill="none"/>
<path d="M111.3,819.5 V825.8 M111.3,1343 V1346.5" stroke="#444" stroke-width="1.4" fill="none"/>
<path d="M170.3,819.5 V825.8 M170.3,1343 V1346.5" stroke="#444" stroke-width="1.4" fill="none"/>
<path d="M229.3,819.5 V825.8 M229.3,1343 V1346.5" stroke="#444" stroke-width="1.4" fill="none"/>
<path d="M288.3,819.5 V825.8 M288.3,1343 V1346.5" stroke="#444" stroke-width="1.4" fill="none"/>
<path d="M347.3,819.5 V825.8 M347.3,1343 V1346.5" stroke="#444" stroke-width="1.4" fill="none"/>
<path d="M406.3,819.5 V825.8 M406.3,1343 V1346.5" stroke="#444" stroke-width="1.4" fill="none"/>
<path d="M465.3,819.5 V825.8 M465.3,1343 V1346.5" stroke="#444" stroke-width="1.4" fill="none"/>
<path d="M524.3,819.5 V825.8 M524.3,1343 V1346.5" stroke="#444" stroke-width="1.4" fill="none"/>
<path d="M583.3,819.5 V825.8 M583.3,1343 V1346.5" stroke="#444" stroke-width="1.4" fill="none"/>
<path d="M642.3,819.5 V825.8 M642.3,1343 V1346.5" stroke="#444" stroke-width="1.4" fill="none"/>
<path d="M701.3,819.5 V825.8 M701.3,1343 V1346.5" stroke="#444" stroke-width="1.4" fill="none"/>
<path d="M108.5,825.8 H111.3 M701.3,825.8 H708" stroke="#444" stroke-width="1.4" fill="none"/>
<path d="M108.5,877.5 H111.3 M701.3,877.5 H708" stroke="#444" stroke-width="1.4" fill="none"/>
<path d="M108.5,929.2 H111.3 M701.3,929.2 H708" stroke="#444" stroke-width="1.4" fill="none"/>
<path d="M108.5,981.0 H111.3 M701.3,981.0 H708" stroke="#444" stroke-width="1.4" fill="none"/>
<path d="M108.5,1032.7 H111.3 M701.3,1032.7 H708" stroke="#444" stroke-width="1.4" fill="none"/>
<path d="M108.5,1084.4 H111.3 M701.3,1084.4 H708" stroke="#444" stroke-width="1.4" fill="none"/>
<path d="M108.5,1136.1 H111.3 M701.3,1136.1 H708" stroke="#444" stroke-width="1.4" fill="none"/>
<path d="M108.5,1187.8 H111.3 M701.3,1187.8 H708" stroke="#444" stroke-width="1.4" fill="none"/>
<path d="M108.5,1239.6 H111.3 M701.3,1239.6 H708" stroke="#444" stroke-width="1.4" fill="none"/>
<path d="M108.5,1291.3 H111.3 M701.3,1291.3 H708" stroke="#444" stroke-width="1.4" fill="none"/>
<path d="M108.5,1343.0 H111.3 M701.3,1343.0 H708" stroke="#444" stroke-width="1.4" fill="none"/>
<g font-family="'Liberation Sans',sans-serif" font-size="24px" fill="#1a1a1a">
<text x="71" y="844" textLength="25.5" lengthAdjust="spacingAndGlyphs">50</text>
<text x="71" y="943" textLength="25.5" lengthAdjust="spacingAndGlyphs">40</text>
<text x="71" y="1041.5" textLength="25.5" lengthAdjust="spacingAndGlyphs">30</text>
<text x="71" y="1141.5" textLength="25.5" lengthAdjust="spacingAndGlyphs">20</text>
<text x="71" y="1240" textLength="25.5" lengthAdjust="spacingAndGlyphs">10</text>
<text x="71" y="1339">0</text>
<text x="115.6" y="1373.8" font-size="26px" textLength="12.8" lengthAdjust="spacingAndGlyphs">0</text>
<text x="160.6" y="1373.8" font-size="26px" textLength="12.8" lengthAdjust="spacingAndGlyphs">5</text>
<text x="213.5" y="1373.8" font-size="26px" textLength="27" lengthAdjust="spacingAndGlyphs">10</text>
<text x="272.5" y="1373.8" font-size="26px" textLength="27" lengthAdjust="spacingAndGlyphs">15</text>
<text x="331.5" y="1373.8" font-size="26px" textLength="27" lengthAdjust="spacingAndGlyphs">20</text>
<text x="390.0" y="1373.8" font-size="26px" textLength="27" lengthAdjust="spacingAndGlyphs">25</text>
<text x="449.5" y="1373.8" font-size="26px" textLength="27" lengthAdjust="spacingAndGlyphs">30</text>
<text x="509.0" y="1373.8" font-size="26px" textLength="27" lengthAdjust="spacingAndGlyphs">35</text>
<text x="568.0" y="1373.8" font-size="26px" textLength="27" lengthAdjust="spacingAndGlyphs">40</text>
<text x="627.0" y="1373.8" font-size="26px" textLength="27" lengthAdjust="spacingAndGlyphs">45</text>
<text x="686.5" y="1373.8" font-size="26px" textLength="27" lengthAdjust="spacingAndGlyphs">50</text>
</g>
<text x="230.5" y="1412.5" font-family="'Liberation Sans',sans-serif" font-size="32px" fill="#1a1a1a" textLength="354" lengthAdjust="spacingAndGlyphs">Horizontal distance (km)</text>
<text transform="translate(26,1289) rotate(-90)" font-family="'Liberation Sans',sans-serif" font-size="32px" fill="#1a1a1a" textLength="353" lengthAdjust="spacingAndGlyphs">Horizontal distance (km)</text>
<path d="M361.3,1093.8 L450,1020 M412,1170 L478.8,1030.5 M603.7,1198.3 L492.5,1047.5 M708,1000 L527.5,1020 M708,1000 L551.3,1075.8" stroke="#111" stroke-width="1.5" fill="none"/>
<rect x="256.3" y="829.5" width="262.7" height="66.7" fill="none" stroke="#1a1a1a" stroke-width="1.5"/>
<rect x="223.3" y="1061.3" width="140" height="73.7" fill="none" stroke="#1a1a1a" stroke-width="1.5"/>
<rect x="301.8" y="1168.5" width="188" height="77" fill="none" stroke="#1a1a1a" stroke-width="1.5"/>
<rect x="532" y="1198.3" width="136" height="71.2" fill="none" stroke="#1a1a1a" stroke-width="1.5"/>
<rect x="713.3" y="970.8" width="178" height="78.2" fill="none" stroke="#1a1a1a" stroke-width="1.5"/>
<g font-family="'Liberation Sans',sans-serif" font-size="25px" fill="#1a1a1a">
<text x="272" y="853.8" textLength="244" lengthAdjust="spacingAndGlyphs">Bounded weak echo</text>
<text x="272" y="890" textLength="172" lengthAdjust="spacingAndGlyphs">region (BWER)</text>
<text x="235" y="1089.5" textLength="117" lengthAdjust="spacingAndGlyphs">Rear flank</text>
<text x="235" y="1126.3" textLength="50" lengthAdjust="spacingAndGlyphs">core</text>
<text x="311.3" y="1193.5" textLength="130" lengthAdjust="spacingAndGlyphs">Hook echo</text>
<text x="311.3" y="1230" textLength="172" lengthAdjust="spacingAndGlyphs">(mesocyclone)</text>
<text x="538" y="1221.8" textLength="122" lengthAdjust="spacingAndGlyphs">Rear-flank</text>
<text x="538" y="1257.5" textLength="118" lengthAdjust="spacingAndGlyphs">gust front</text>
<text x="461.3" y="979.5" textLength="227.5" lengthAdjust="spacingAndGlyphs">Forward-flank core</text>
</g>
<g font-family="'Liberation Sans',sans-serif" font-size="26px" fill="#1a1a1a">
<text x="718" y="998.8" textLength="167" lengthAdjust="spacingAndGlyphs">Forward-flank</text>
<text x="718" y="1035" textLength="118.3" lengthAdjust="spacingAndGlyphs">gust front</text>
</g>
</g>
<g id="pd">
<defs><clipPath id="pdclip"><rect x="1017.5" y="832" width="745" height="429.3"/></clipPath></defs>
<g clip-path="url(#pdclip)">
<path d="M1531.3,1261.2C1532.1,1260.7 1534.6,1259.7 1536.3,1258.6C1538.0,1257.5 1540.0,1256.2 1541.4,1254.4C1542.8,1252.5 1543.1,1249.7 1544.8,1247.6C1546.5,1245.5 1549.0,1243.2 1551.6,1241.7C1554.1,1240.1 1557.5,1239.6 1560.0,1238.3C1562.6,1237.0 1564.6,1235.9 1566.8,1234.1C1569.1,1232.2 1572.2,1229.5 1573.6,1227.3C1575.0,1225.0 1574.4,1222.8 1575.3,1220.5C1576.1,1218.3 1577.0,1215.4 1578.7,1213.7C1580.4,1212.1 1583.2,1211.6 1585.4,1210.4C1587.7,1209.1 1589.9,1207.8 1592.2,1206.1C1594.5,1204.4 1596.4,1201.6 1599.0,1200.2C1601.5,1198.8 1604.3,1198.2 1607.4,1197.7C1610.5,1197.1 1614.2,1197.2 1617.6,1196.8C1621.0,1196.4 1625.2,1196.3 1627.8,1195.1C1630.3,1194.0 1631.4,1192.0 1632.8,1190.0C1634.2,1188.1 1634.5,1185.1 1636.2,1183.3C1637.9,1181.4 1640.7,1180.7 1643.0,1179.0C1645.3,1177.3 1648.4,1175.5 1649.8,1173.1C1651.2,1170.7 1651.0,1168.3 1651.5,1164.7C1651.9,1161.0 1652.0,1155.1 1652.3,1151.1C1652.6,1147.2 1652.4,1143.8 1653.2,1140.9C1653.9,1138.1 1654.8,1135.7 1656.5,1134.2C1658.2,1132.6 1660.8,1132.5 1663.3,1131.6C1665.8,1130.8 1669.5,1130.4 1671.8,1129.1C1674.0,1127.8 1675.7,1126.3 1676.9,1124.0C1678.0,1121.8 1678.5,1118.2 1678.5,1115.6C1678.5,1112.9 1678.0,1110.2 1676.9,1107.9C1675.7,1105.7 1674.0,1103.6 1671.8,1102.0C1669.5,1100.5 1667.0,1099.5 1663.3,1098.6C1659.6,1097.8 1654.8,1097.2 1649.8,1096.9C1644.7,1096.6 1638.5,1096.8 1632.8,1096.9C1627.2,1097.1 1620.1,1097.9 1615.9,1097.8C1611.7,1097.6 1609.4,1097.4 1607.4,1096.1C1605.5,1094.8 1604.8,1092.8 1604.1,1090.2C1603.3,1087.5 1603.2,1082.1 1603.2,1080.0C1603.2,1077.9 1604.2,1080.1 1604.1,1077.4C1603.9,1074.8 1602.8,1068.4 1602.4,1063.9C1601.9,1059.4 1601.2,1053.9 1601.5,1050.4C1601.8,1046.8 1602.5,1044.7 1604.1,1042.7C1605.6,1040.8 1608.7,1040.1 1610.8,1038.5C1612.9,1037.0 1615.6,1035.4 1616.8,1033.4C1617.9,1031.5 1617.7,1029.5 1617.6,1026.7C1617.5,1023.8 1616.3,1019.9 1615.9,1016.5C1615.5,1013.1 1614.5,1009.3 1615.1,1006.3C1615.6,1003.4 1617.2,1000.6 1619.3,998.7C1621.4,996.9 1624.1,996.2 1627.8,995.3C1631.4,994.5 1636.8,994.4 1641.3,993.6C1645.8,992.9 1650.6,992.1 1654.8,991.1C1659.1,990.1 1663.3,989.0 1666.7,987.7C1670.1,986.5 1672.1,984.9 1675.2,983.5C1678.3,982.1 1682.4,980.5 1685.3,979.3C1688.3,978.0 1691.2,977.4 1692.9,975.9C1694.6,974.3 1695.3,971.8 1695.5,969.9C1695.6,968.1 1695.2,966.4 1693.8,964.9C1692.4,963.3 1690.1,961.6 1687.0,960.6C1683.9,959.7 1682.8,959.5 1675.2,959.3C1667.5,959.1 1651.2,959.2 1641.3,959.3C1631.4,959.4 1623.0,959.7 1615.9,959.8C1608.9,959.9 1603.5,960.3 1599.0,959.8C1594.5,959.2 1591.9,958.0 1588.8,956.4C1585.7,954.8 1583.2,952.4 1580.4,950.5C1577.5,948.5 1575.3,945.9 1571.9,944.5C1568.5,943.2 1565.4,942.6 1560.0,942.3C1554.7,942.1 1548.7,942.6 1539.7,942.9C1530.7,943.1 1517.6,943.3 1505.9,943.7C1494.1,944.1 1483.9,944.8 1469.3,945.1C1454.7,945.3 1432.9,945.5 1418.5,945.4C1404.1,945.3 1390.0,945.3 1383.0,944.5C1375.9,943.8 1378.2,942.3 1376.2,941.2C1374.2,940.0 1377.2,938.1 1371.1,937.8C1365.0,937.4 1346.5,938.9 1339.8,939.0C1333.2,939.0 1333.5,937.9 1331.2,938.3C1328.9,938.7 1328.1,940.1 1326.1,941.2C1324.1,942.2 1323.0,943.8 1319.3,944.5C1315.7,945.3 1311.2,945.3 1304.1,945.4C1297.1,945.5 1282.4,945.5 1277.0,945.4C1271.7,945.3 1273.6,944.0 1271.9,944.5C1270.2,945.1 1268.8,946.9 1266.9,948.8C1264.9,950.6 1262.6,953.7 1260.1,955.6C1257.6,957.4 1254.4,959.1 1251.6,959.8C1248.8,960.5 1245.7,960.3 1243.2,959.8C1240.6,959.2 1238.4,958.0 1236.4,956.4C1234.4,954.8 1233.0,952.3 1231.3,950.5C1229.6,948.6 1228.5,946.8 1226.2,945.4C1224.0,944.0 1220.6,942.4 1217.8,942.0C1214.9,941.6 1212.1,942.4 1209.3,942.9C1206.5,943.3 1204.2,944.1 1200.8,944.5C1197.4,945.0 1192.4,945.1 1189.0,945.4C1185.6,945.7 1183.1,945.3 1180.5,946.2C1178.0,947.2 1176.0,949.6 1173.7,951.3C1171.5,953.0 1169.5,954.8 1167.0,956.4C1164.4,958.0 1161.0,959.4 1158.5,960.6C1156.0,961.9 1153.6,962.3 1151.7,964.0C1149.9,965.7 1148.5,967.7 1147.5,970.8C1146.5,973.9 1146.2,978.4 1145.8,982.6C1145.4,986.9 1144.9,992.8 1145.3,996.2C1145.7,999.6 1146.4,1001.3 1148.4,1003.0C1150.3,1004.7 1154.0,1005.2 1156.8,1006.3C1159.6,1007.5 1162.6,1008.5 1165.3,1009.7C1168.0,1011.0 1172.9,1012.6 1172.9,1014.0C1172.9,1015.4 1168.0,1017.1 1165.3,1018.2C1162.6,1019.3 1159.6,1019.9 1156.8,1020.7C1154.0,1021.6 1150.5,1021.7 1148.4,1023.3C1146.2,1024.8 1145.0,1026.7 1144.1,1030.0C1143.2,1033.4 1142.7,1039.9 1142.9,1043.6C1143.2,1047.3 1144.1,1050.2 1145.8,1052.1C1147.6,1053.9 1151.3,1054.0 1153.4,1054.6C1155.5,1055.2 1157.2,1054.5 1158.5,1055.4C1159.8,1056.4 1160.5,1058.3 1161.0,1060.5C1161.6,1062.8 1161.3,1066.7 1161.6,1069.0C1161.8,1071.2 1163.3,1072.4 1162.7,1074.1C1162.2,1075.8 1160.3,1077.9 1158.5,1079.1C1156.7,1080.4 1153.7,1080.4 1151.7,1081.7C1149.8,1083.0 1148.4,1084.6 1146.7,1086.8C1145.0,1088.9 1143.3,1092.7 1141.6,1094.4C1139.9,1096.1 1137.9,1096.6 1136.5,1096.9C1135.1,1097.2 1133.7,1098.5 1133.1,1096.1C1132.5,1093.7 1133.1,1086.5 1132.8,1082.5C1132.5,1078.6 1132.8,1074.8 1131.4,1072.4C1130.1,1070.0 1126.9,1068.6 1124.7,1068.1C1122.4,1067.7 1119.7,1068.3 1117.9,1069.8C1116.0,1071.4 1114.4,1073.9 1113.6,1077.4C1112.9,1081.0 1112.7,1087.3 1113.1,1091.0C1113.6,1094.7 1114.3,1097.6 1116.2,1099.5C1118.1,1101.3 1122.7,1101.0 1124.7,1102.0C1126.6,1103.0 1127.3,1104.5 1128.0,1105.4C1128.7,1106.2 1128.9,1105.7 1128.9,1107.1C1128.9,1108.5 1129.6,1112.3 1128.0,1113.9C1126.5,1115.4 1121.8,1115.0 1119.6,1116.4C1117.3,1117.8 1116.5,1120.5 1114.5,1122.3C1112.5,1124.2 1110.1,1125.7 1107.7,1127.4C1105.3,1129.1 1101.5,1130.5 1100.1,1132.5C1098.7,1134.5 1098.5,1137.1 1099.3,1139.3C1100.0,1141.4 1101.8,1143.9 1104.3,1145.2C1106.9,1146.5 1110.0,1146.6 1114.5,1146.9C1119.0,1147.2 1127.5,1146.5 1131.4,1146.9C1135.4,1147.3 1136.8,1147.9 1138.2,1149.4C1139.6,1151.0 1140.9,1154.5 1139.9,1156.2C1138.9,1157.9 1134.4,1157.9 1132.3,1159.6C1130.2,1161.3 1127.9,1163.9 1127.2,1166.3C1126.5,1168.7 1126.8,1171.7 1128.0,1174.0C1129.3,1176.2 1132.6,1178.1 1134.8,1179.9C1137.1,1181.7 1139.9,1183.0 1141.6,1185.0C1143.3,1186.9 1144.5,1189.2 1145.0,1191.7C1145.4,1194.3 1145.2,1197.8 1144.1,1200.2C1143.0,1202.6 1140.9,1204.9 1138.2,1206.1C1135.5,1207.4 1131.4,1208.2 1128.0,1207.8C1124.7,1207.4 1120.4,1205.4 1117.9,1203.6C1115.3,1201.8 1114.5,1198.5 1112.8,1196.8C1111.1,1195.1 1109.6,1193.4 1107.7,1193.4C1105.9,1193.4 1103.2,1194.6 1101.8,1196.8C1100.4,1199.1 1099.5,1202.5 1099.3,1207.0C1099.0,1211.5 1100.4,1219.7 1100.1,1223.9C1099.8,1228.1 1099.4,1230.1 1097.6,1232.4C1095.7,1234.6 1091.6,1235.2 1089.1,1237.4C1086.6,1239.7 1084.2,1243.2 1082.3,1245.9C1080.5,1248.6 1079.6,1252.4 1078.1,1253.5C1076.5,1254.7 1074.6,1254.2 1073.0,1252.7C1071.5,1251.1 1070.3,1246.6 1068.8,1244.2C1067.2,1241.8 1065.7,1239.1 1063.7,1238.3C1061.7,1237.4 1058.6,1237.9 1056.9,1239.1C1055.2,1240.4 1054.1,1242.2 1053.5,1245.9C1053.0,1249.6 1053.8,1258.6 1053.9,1261.2L1053.9,1286.3L1531.3,1286.3Z" fill="#7490e8" stroke="#0000ff" stroke-width="3.6" stroke-linejoin="round"/>
<path d="M1526.2,1261.2C1527.2,1260.3 1530.3,1257.8 1532.1,1256.1C1533.9,1254.4 1535.6,1252.8 1537.2,1251.0C1538.7,1249.2 1539.6,1247.0 1541.4,1245.1C1543.2,1243.1 1545.6,1240.8 1548.2,1239.1C1550.7,1237.4 1554.1,1236.3 1556.7,1234.9C1559.2,1233.5 1561.3,1232.5 1563.4,1230.7C1565.5,1228.8 1567.9,1226.2 1569.3,1223.9C1570.8,1221.6 1570.9,1219.4 1571.9,1217.1C1572.9,1214.9 1573.6,1212.2 1575.3,1210.4C1577.0,1208.5 1579.8,1207.7 1582.0,1206.1C1584.3,1204.6 1586.6,1202.9 1588.8,1201.0C1591.1,1199.2 1593.0,1196.7 1595.6,1195.1C1598.1,1193.6 1601.0,1192.4 1604.1,1191.7C1607.2,1191.0 1610.8,1191.5 1614.2,1190.9C1617.6,1190.3 1621.8,1189.6 1624.4,1188.4C1626.9,1187.1 1627.8,1185.2 1629.4,1183.3C1631.1,1181.3 1632.6,1178.5 1634.5,1176.5C1636.5,1174.5 1639.6,1173.4 1641.3,1171.4C1643.0,1169.4 1644.0,1168.0 1644.7,1164.7C1645.4,1161.3 1645.5,1155.6 1645.5,1151.1C1645.5,1146.6 1644.5,1141.5 1644.7,1137.6C1644.8,1133.6 1645.5,1130.2 1646.4,1127.4C1647.2,1124.6 1648.4,1122.6 1649.8,1120.6C1651.2,1118.7 1653.4,1117.2 1654.8,1115.6C1656.3,1113.9 1658.8,1112.2 1658.2,1110.5C1657.7,1108.8 1654.3,1106.5 1651.5,1105.4C1648.6,1104.3 1645.3,1103.8 1641.3,1103.7C1637.3,1103.6 1632.0,1103.8 1627.8,1104.5C1623.5,1105.3 1619.9,1106.9 1615.9,1107.9C1612.0,1108.9 1607.7,1110.1 1604.1,1110.5C1600.4,1110.9 1596.4,1111.3 1593.9,1110.5C1591.4,1109.6 1589.5,1107.4 1588.8,1105.4C1588.1,1103.4 1589.0,1101.2 1589.7,1098.6C1590.4,1096.1 1592.3,1093.3 1593.0,1090.2C1593.8,1087.1 1594.0,1082.1 1593.9,1080.0C1593.8,1077.9 1593.0,1079.0 1592.2,1077.4C1591.4,1075.9 1590.5,1072.4 1588.8,1070.7C1587.1,1069.0 1584.0,1069.3 1582.0,1067.3C1580.1,1065.3 1578.4,1061.6 1577.0,1058.8C1575.6,1056.0 1575.0,1052.9 1573.6,1050.4C1572.2,1047.8 1570.5,1045.6 1568.5,1043.6C1566.5,1041.6 1563.3,1040.8 1561.7,1038.5C1560.2,1036.3 1558.9,1032.6 1559.2,1030.0C1559.5,1027.5 1561.3,1025.5 1563.4,1023.3C1565.5,1021.0 1568.5,1018.8 1571.9,1016.5C1575.3,1014.2 1579.8,1011.7 1583.7,1009.7C1587.7,1007.8 1592.2,1006.6 1595.6,1004.7C1599.0,1002.7 1601.2,1000.0 1604.1,997.9C1606.9,995.8 1609.1,993.6 1612.5,992.0C1615.9,990.3 1620.1,989.0 1624.4,987.7C1628.6,986.5 1634.0,985.7 1637.9,984.3C1641.9,982.9 1644.1,980.7 1648.1,979.3C1652.0,977.8 1657.1,977.1 1661.6,975.9C1666.1,974.6 1671.8,972.8 1675.2,971.6C1678.5,970.5 1681.9,969.8 1681.9,969.1C1681.9,968.4 1679.1,968.0 1675.2,967.4C1671.2,966.8 1665.3,965.9 1658.2,965.7C1651.2,965.6 1641.3,966.3 1632.8,966.6C1624.4,966.8 1614.5,967.1 1607.4,967.4C1600.4,967.7 1595.6,969.1 1590.5,968.3C1585.4,967.4 1580.4,964.4 1577.0,962.3C1573.6,960.2 1572.5,957.4 1570.2,955.6C1567.9,953.7 1567.1,952.2 1563.4,951.3C1559.8,950.5 1555.0,950.5 1548.2,950.5C1541.4,950.5 1531.3,951.0 1522.8,951.3C1514.3,951.6 1506.3,951.7 1497.4,952.2C1488.5,952.6 1476.8,953.3 1469.3,953.9C1461.8,954.4 1458.0,955.1 1452.4,955.6C1446.7,956.0 1442.5,956.7 1435.4,956.4C1428.4,956.1 1418.5,954.6 1410.0,953.9C1401.6,953.2 1391.7,952.9 1384.7,952.2C1377.6,951.5 1373.4,950.2 1367.7,949.6C1362.1,949.0 1355.4,948.3 1350.8,948.4C1346.1,948.6 1343.7,950.0 1339.8,950.5C1336.0,951.0 1332.6,951.0 1327.8,951.3C1323.0,951.6 1316.5,951.9 1310.9,952.2C1305.2,952.4 1299.6,952.6 1294.0,953.0C1288.3,953.4 1281.5,953.2 1277.0,954.7C1272.5,956.3 1270.2,960.6 1266.9,962.3C1263.5,964.0 1260.7,964.0 1256.7,964.9C1252.8,965.7 1247.4,967.1 1243.2,967.4C1238.9,967.7 1235.3,966.8 1231.3,966.6C1227.4,966.3 1223.1,966.1 1219.5,965.7C1215.8,965.3 1212.7,964.7 1209.3,964.0C1205.9,963.3 1202.5,961.8 1199.1,961.5C1195.8,961.2 1192.4,961.6 1189.0,962.3C1185.6,963.0 1182.2,964.6 1178.8,965.7C1175.4,966.8 1171.1,967.4 1168.7,969.1C1166.3,970.8 1165.2,972.8 1164.4,975.9C1163.6,979.0 1163.2,984.8 1163.9,987.7C1164.6,990.7 1166.2,992.7 1168.7,993.6C1171.2,994.6 1175.7,993.2 1178.8,993.6C1181.9,994.1 1185.0,994.6 1187.3,996.2C1189.5,997.7 1190.1,1001.0 1192.4,1003.0C1194.6,1004.9 1198.4,1006.1 1200.8,1008.0C1203.2,1010.0 1205.9,1012.6 1206.8,1014.8C1207.6,1017.1 1207.2,1019.6 1205.9,1021.6C1204.6,1023.6 1200.6,1024.4 1199.1,1026.7C1197.7,1028.9 1197.0,1032.6 1197.4,1035.1C1197.9,1037.7 1200.8,1039.4 1201.7,1041.9C1202.5,1044.4 1203.5,1048.1 1202.5,1050.4C1201.5,1052.6 1197.4,1053.2 1195.8,1055.4C1194.1,1057.7 1194.1,1061.4 1192.4,1063.9C1190.7,1066.4 1187.9,1069.0 1185.6,1070.7C1183.3,1072.4 1180.5,1072.4 1178.8,1074.1C1177.1,1075.8 1176.3,1078.6 1175.4,1080.8C1174.6,1083.1 1174.9,1085.9 1173.7,1087.6C1172.6,1089.3 1170.6,1090.4 1168.7,1091.0C1166.7,1091.6 1164.2,1091.0 1161.9,1091.0C1159.6,1091.0 1157.1,1090.1 1155.1,1091.0C1153.1,1091.8 1151.7,1094.4 1150.0,1096.1C1148.4,1097.8 1146.7,1099.5 1145.0,1101.2C1143.3,1102.8 1141.0,1104.8 1139.9,1106.2C1138.8,1107.7 1139.0,1107.0 1138.2,1110.0C1137.3,1112.9 1135.9,1119.4 1134.8,1124.0C1133.7,1128.6 1130.3,1133.6 1131.4,1137.6C1132.6,1141.5 1139.3,1144.1 1141.6,1147.7C1143.8,1151.4 1146.1,1156.2 1145.0,1159.6C1143.8,1163.0 1135.4,1165.2 1134.8,1168.0C1134.2,1170.9 1139.3,1172.8 1141.6,1176.5C1143.8,1180.2 1145.8,1185.8 1148.4,1190.0C1150.9,1194.3 1156.5,1197.9 1156.8,1201.9C1157.1,1205.8 1152.2,1210.1 1150.0,1213.7C1147.9,1217.4 1145.5,1220.2 1144.1,1223.9C1142.7,1227.6 1142.8,1233.2 1141.6,1235.8C1140.3,1238.3 1138.1,1239.7 1136.5,1239.1C1134.9,1238.6 1133.7,1234.9 1132.3,1232.4C1130.9,1229.8 1130.2,1225.9 1128.0,1223.9C1125.9,1221.9 1122.4,1220.5 1119.6,1220.5C1116.7,1220.5 1113.4,1221.9 1111.1,1223.9C1108.8,1225.9 1108.3,1229.5 1106.0,1232.4C1103.8,1235.2 1100.4,1238.0 1097.6,1240.8C1094.7,1243.7 1091.4,1245.9 1089.1,1249.3C1086.8,1252.7 1084.9,1259.2 1084.0,1261.2L1084.0,1286.3L1526.2,1286.3Z" fill="#00ffff"/>
<path d="M1522.8,1261.2C1523.9,1260.0 1527.6,1256.4 1529.6,1254.4C1531.5,1252.4 1533.1,1251.1 1534.6,1249.3C1536.2,1247.5 1537.2,1245.3 1538.9,1243.4C1540.6,1241.4 1542.7,1239.1 1544.8,1237.4C1546.9,1235.8 1549.2,1234.8 1551.6,1233.2C1554.0,1231.7 1556.9,1230.0 1559.2,1228.1C1561.4,1226.3 1563.6,1224.3 1565.1,1222.2C1566.7,1220.1 1567.2,1217.7 1568.5,1215.4C1569.8,1213.2 1571.0,1210.6 1572.7,1208.7C1574.4,1206.7 1576.5,1205.3 1578.7,1203.6C1580.8,1201.9 1583.2,1200.3 1585.4,1198.5C1587.7,1196.7 1589.7,1194.0 1592.2,1192.6C1594.7,1191.2 1597.6,1190.6 1600.7,1190.0C1603.8,1189.5 1607.4,1189.8 1610.8,1189.2C1614.2,1188.6 1618.2,1187.9 1621.0,1186.7C1623.8,1185.4 1625.8,1183.6 1627.8,1181.6C1629.7,1179.6 1631.1,1176.5 1632.8,1174.8C1634.5,1173.1 1636.6,1173.1 1637.9,1171.4C1639.2,1169.7 1640.2,1167.8 1640.5,1164.7C1640.7,1161.5 1640.6,1156.2 1639.6,1152.8C1638.6,1149.4 1636.5,1146.6 1634.5,1144.3C1632.6,1142.1 1630.0,1140.9 1627.8,1139.3C1625.5,1137.6 1623.5,1135.2 1621.0,1134.2C1618.4,1133.2 1615.3,1134.2 1612.5,1133.3C1609.7,1132.5 1606.6,1130.9 1604.1,1129.1C1601.5,1127.3 1599.8,1123.7 1597.3,1122.3C1594.7,1120.9 1591.6,1121.5 1588.8,1120.6C1586.0,1119.8 1582.6,1119.2 1580.4,1117.2C1578.1,1115.3 1576.4,1112.2 1575.3,1108.8C1574.1,1105.4 1574.0,1099.6 1573.6,1096.9C1573.1,1094.2 1572.9,1095.4 1572.6,1092.7C1572.3,1090.0 1572.3,1084.8 1571.7,1080.8C1571.2,1076.9 1570.7,1072.7 1569.2,1069.0C1567.6,1065.3 1564.7,1061.6 1562.4,1058.8C1560.2,1056.0 1557.6,1054.9 1555.6,1052.1C1553.7,1049.2 1551.8,1045.8 1550.6,1041.9C1549.3,1037.9 1548.7,1032.6 1548.0,1028.4C1547.3,1024.1 1546.2,1019.9 1546.3,1016.5C1546.5,1013.1 1547.3,1010.2 1548.9,1008.0C1550.4,1005.9 1552.5,1004.9 1555.6,1003.8C1558.7,1002.7 1563.8,1002.3 1567.5,1001.3C1571.2,1000.3 1575.4,999.3 1577.7,997.9C1579.9,996.5 1581.6,994.8 1581.0,992.8C1580.5,990.8 1576.8,988.3 1574.3,986.0C1571.7,983.8 1569.2,981.4 1565.8,979.3C1562.4,977.1 1558.2,975.0 1554.0,973.3C1549.7,971.6 1544.9,969.8 1540.4,969.1C1535.9,968.4 1530.8,968.5 1526.9,969.1C1522.9,969.7 1519.8,970.8 1516.7,972.5C1513.6,974.2 1511.1,977.0 1508.2,979.3C1505.4,981.5 1502.3,983.5 1499.8,986.0C1497.2,988.6 1495.8,992.7 1493.0,994.5C1490.2,996.3 1486.5,996.5 1482.8,997.0C1479.2,997.6 1473.7,996.9 1471.0,997.9C1468.3,998.9 1466.5,1001.3 1466.8,1003.0C1467.0,1004.7 1471.0,1006.1 1472.7,1008.0C1474.4,1010.0 1476.6,1012.6 1476.9,1014.8C1477.2,1017.1 1475.6,1019.3 1474.4,1021.6C1473.1,1023.8 1471.3,1026.1 1469.3,1028.4C1467.3,1030.6 1464.8,1033.7 1462.5,1035.1C1460.3,1036.5 1457.6,1037.4 1455.8,1036.8C1453.9,1036.3 1452.5,1034.0 1451.5,1031.7C1450.5,1029.5 1451.1,1025.2 1449.8,1023.3C1448.6,1021.3 1447.7,1020.9 1443.9,1019.9C1440.1,1018.9 1432.3,1018.3 1427.0,1017.3C1421.6,1016.4 1415.1,1014.1 1411.7,1014.0C1408.4,1013.8 1407.2,1015.5 1406.7,1016.5C1406.1,1017.5 1407.4,1018.3 1408.4,1019.9C1409.3,1021.4 1412.3,1024.1 1412.6,1025.8C1412.9,1027.5 1411.3,1030.0 1410.0,1030.0C1408.8,1030.0 1406.9,1026.8 1405.0,1025.8C1403.0,1024.8 1400.5,1023.8 1398.2,1024.1C1395.9,1024.4 1393.7,1026.2 1391.4,1027.5C1389.2,1028.8 1387.2,1030.5 1384.7,1031.7C1382.1,1033.0 1379.0,1034.8 1376.2,1035.1C1373.4,1035.4 1370.1,1034.6 1367.7,1033.4C1365.3,1032.3 1363.1,1030.6 1361.8,1028.4C1360.5,1026.1 1360.8,1022.7 1360.1,1019.9C1359.4,1017.1 1359.1,1013.7 1357.6,1011.4C1356.0,1009.2 1353.3,1006.9 1350.8,1006.3C1348.3,1005.8 1345.6,1007.0 1342.3,1008.0C1339.1,1009.0 1335.3,1011.1 1331.2,1012.3C1327.1,1013.4 1322.2,1014.1 1317.7,1014.8C1313.1,1015.5 1308.1,1015.8 1304.1,1016.5C1300.2,1017.2 1297.9,1018.1 1294.0,1019.0C1290.0,1020.0 1284.9,1021.3 1280.4,1022.4C1275.9,1023.6 1270.8,1025.4 1266.9,1025.8C1262.9,1026.2 1260.1,1026.0 1256.7,1025.0C1253.3,1024.0 1249.1,1022.1 1246.5,1019.9C1244.0,1017.6 1243.2,1014.2 1241.5,1011.4C1239.8,1008.6 1238.9,1005.0 1236.4,1003.0C1233.8,1000.9 1229.3,1000.1 1226.2,999.2C1223.1,998.4 1220.0,997.8 1217.8,997.9C1215.5,997.9 1213.5,997.3 1212.7,999.6C1211.8,1001.8 1213.0,1007.8 1212.7,1011.4C1212.4,1015.1 1211.8,1018.5 1211.0,1021.6C1210.1,1024.7 1207.9,1026.7 1207.6,1030.0C1207.3,1033.4 1209.3,1038.2 1209.3,1041.9C1209.3,1045.6 1208.7,1049.0 1207.6,1052.1C1206.5,1055.2 1203.9,1057.7 1202.5,1060.5C1201.1,1063.3 1200.3,1065.6 1199.1,1069.0C1198.0,1072.4 1196.6,1076.9 1195.8,1080.8C1194.9,1084.8 1194.3,1089.0 1194.1,1092.7C1193.8,1096.4 1193.9,1100.7 1194.1,1102.8C1194.2,1105.0 1193.5,1104.3 1194.9,1105.4C1196.3,1106.5 1200.1,1108.5 1202.5,1109.6C1204.9,1110.8 1207.8,1110.6 1209.3,1112.2C1210.8,1113.7 1211.0,1116.1 1211.3,1118.9C1211.6,1121.8 1211.9,1126.6 1211.0,1129.1C1210.1,1131.6 1207.9,1132.5 1205.9,1134.2C1203.9,1135.9 1201.4,1137.6 1199.1,1139.3C1196.9,1140.9 1194.3,1142.6 1192.4,1144.3C1190.4,1146.0 1188.7,1147.4 1187.3,1149.4C1185.9,1151.4 1185.0,1153.6 1183.9,1156.2C1182.8,1158.7 1180.5,1162.4 1180.5,1164.7C1180.5,1166.9 1182.5,1169.7 1183.9,1169.7C1185.3,1169.7 1187.0,1166.3 1189.0,1164.7C1191.0,1163.0 1193.5,1160.1 1195.8,1159.6C1198.0,1159.0 1200.7,1159.9 1202.5,1161.3C1204.4,1162.7 1206.1,1165.5 1206.8,1168.0C1207.5,1170.6 1207.3,1173.7 1206.8,1176.5C1206.2,1179.3 1204.4,1182.1 1203.4,1185.0C1202.4,1187.8 1201.0,1190.6 1200.8,1193.4C1200.7,1196.3 1201.7,1199.4 1202.5,1201.9C1203.4,1204.4 1205.2,1206.1 1205.9,1208.7C1206.6,1211.2 1207.3,1214.6 1206.8,1217.1C1206.2,1219.7 1204.4,1222.2 1202.5,1223.9C1200.7,1225.6 1198.3,1227.0 1195.8,1227.3C1193.2,1227.6 1189.8,1226.2 1187.3,1225.6C1184.8,1225.0 1182.5,1225.0 1180.5,1223.9C1178.5,1222.8 1176.6,1220.8 1175.4,1218.8C1174.3,1216.9 1174.9,1213.7 1173.7,1212.1C1172.6,1210.4 1170.4,1208.7 1168.7,1208.7C1167.0,1208.7 1165.3,1210.1 1163.6,1212.1C1161.9,1214.0 1160.2,1218.0 1158.5,1220.5C1156.8,1223.1 1154.8,1225.3 1153.4,1227.3C1152.0,1229.3 1151.2,1230.4 1150.0,1232.4C1148.9,1234.3 1148.1,1237.4 1146.7,1239.1C1145.2,1240.8 1143.6,1240.8 1141.6,1242.5C1139.6,1244.2 1137.6,1247.6 1134.8,1249.3C1132.0,1251.0 1128.0,1251.6 1124.7,1252.7C1121.3,1253.8 1117.9,1254.7 1114.5,1256.1C1111.1,1257.5 1106.0,1260.3 1104.3,1261.2L1104.3,1286.3L1522.8,1286.3Z" fill="#00ff00"/>
<ellipse cx="1152.6" cy="1120.3" rx="23.7" ry="16.1" fill="#7490e8" />
<path d="M1143.3,1176.5C1145.4,1174.0 1154.1,1175.4 1156.8,1177.3C1159.5,1179.3 1159.5,1184.7 1159.4,1188.4C1159.2,1192.0 1157.8,1197.0 1156.0,1199.4C1154.1,1201.8 1150.3,1203.9 1148.4,1202.7C1146.4,1201.6 1145.0,1197.0 1144.1,1192.6C1143.3,1188.2 1141.2,1179.0 1143.3,1176.5Z" fill="#7490e8"/>
<path d="M1168.7,1127.4C1173.2,1124.6 1181.6,1124.9 1185.6,1125.7C1189.5,1126.6 1192.4,1129.9 1192.4,1132.5C1192.4,1135.0 1188.7,1138.4 1185.6,1140.9C1182.5,1143.5 1177.7,1146.0 1173.7,1147.7C1169.8,1149.4 1164.4,1152.0 1161.9,1151.1C1159.4,1150.3 1157.4,1146.6 1158.5,1142.6C1159.6,1138.7 1164.2,1130.2 1168.7,1127.4Z" fill="#7490e8"/>
<ellipse cx="1198.0" cy="1123.2" rx="11.2" ry="10.5" fill="#7490e8" stroke="#00ffff" stroke-width="3"/>
<path d="M1189.0,1130.8C1186.2,1131.4 1179.4,1135.6 1175.4,1137.6C1171.5,1139.5 1168.1,1140.9 1165.3,1142.6C1162.5,1144.3 1159.1,1145.7 1158.5,1147.7C1157.9,1149.7 1159.1,1154.5 1161.9,1154.5C1164.7,1154.5 1171.8,1150.0 1175.4,1147.7C1179.1,1145.5 1181.1,1143.2 1183.9,1140.9C1186.7,1138.7 1191.5,1135.9 1192.4,1134.2C1193.2,1132.5 1191.8,1130.2 1189.0,1130.8Z" fill="#7490e8"/>
<path d="M1143.6,1172.8C1143.2,1168.8 1150.8,1161.0 1154.3,1156.2C1157.7,1151.4 1161.0,1146.5 1164.4,1144.0C1167.9,1141.5 1172.4,1140.0 1175.1,1141.3C1177.8,1142.6 1180.0,1147.2 1180.9,1152.0C1181.7,1156.7 1181.4,1165.1 1180.2,1169.7C1179.0,1174.3 1177.6,1177.8 1173.7,1179.5C1169.9,1181.3 1161.8,1181.4 1156.8,1180.2C1151.8,1179.1 1144.0,1176.8 1143.6,1172.8Z" fill="#7490e8"/>
<path d="M1189.0,1164.7C1190.4,1162.8 1193.5,1161.3 1195.8,1161.3C1198.0,1161.3 1201.0,1162.7 1202.5,1164.7C1204.1,1166.6 1205.3,1170.3 1205.1,1173.1C1204.8,1175.9 1203.0,1179.0 1200.8,1181.6C1198.7,1184.1 1194.1,1185.8 1192.4,1188.4C1190.7,1190.9 1190.4,1194.0 1190.7,1196.8C1191.0,1199.6 1192.9,1202.5 1194.1,1205.3C1195.2,1208.1 1197.3,1210.9 1197.4,1213.7C1197.6,1216.6 1196.9,1220.2 1194.9,1222.2C1192.9,1224.2 1188.6,1225.9 1185.6,1225.6C1182.6,1225.3 1178.8,1222.8 1177.1,1220.5C1175.4,1218.3 1175.2,1215.2 1175.4,1212.1C1175.7,1209.0 1178.5,1205.3 1178.8,1201.9C1179.1,1198.5 1177.7,1195.1 1177.1,1191.7C1176.6,1188.4 1174.9,1184.1 1175.4,1181.6C1176.0,1179.0 1178.5,1178.1 1180.5,1176.5C1182.5,1174.9 1185.9,1174.2 1187.3,1172.3C1188.7,1170.3 1187.6,1166.5 1189.0,1164.7Z" fill="#7490e8" stroke="#00ffff" stroke-width="1.5"/>
<ellipse cx="1138.2" cy="1168.9" rx="6.8" ry="6.8" fill="#00ffff" />
<ellipse cx="1164.4" cy="1187.5" rx="7.6" ry="5.1" fill="#00ff00" />
<path d="M1153.4,1041.9C1152.7,1040.8 1152.0,1037.1 1152.6,1035.1C1153.1,1033.1 1154.7,1031.3 1156.8,1030.0C1158.9,1028.8 1163.0,1027.5 1165.3,1027.5C1167.5,1027.5 1170.4,1029.1 1170.4,1030.0C1170.4,1031.0 1167.0,1032.3 1165.3,1033.4C1163.6,1034.6 1161.6,1035.4 1160.2,1036.8C1158.8,1038.2 1157.9,1041.0 1156.8,1041.9C1155.7,1042.7 1154.1,1043.0 1153.4,1041.9Z" fill="#00ffff"/>
<path d="M1518.6,1261.2C1519.3,1260.3 1521.2,1257.8 1522.8,1256.1C1524.3,1254.4 1526.2,1253.0 1527.9,1251.0C1529.6,1249.0 1531.0,1246.5 1532.9,1244.2C1534.9,1242.0 1537.5,1239.4 1539.7,1237.4C1542.0,1235.5 1544.2,1234.1 1546.5,1232.4C1548.7,1230.7 1551.0,1229.0 1553.3,1227.3C1555.5,1225.6 1558.2,1224.2 1560.0,1222.2C1561.9,1220.2 1562.9,1217.7 1564.3,1215.4C1565.7,1213.2 1566.9,1210.6 1568.5,1208.7C1570.1,1206.7 1571.6,1205.4 1573.6,1203.6C1575.6,1201.8 1578.1,1199.6 1580.4,1197.7C1582.6,1195.7 1584.9,1193.3 1587.1,1191.7C1589.4,1190.2 1591.1,1189.3 1593.9,1188.4C1596.7,1187.4 1601.0,1186.9 1604.1,1185.8C1607.2,1184.7 1610.4,1182.8 1612.5,1181.6C1614.6,1180.3 1616.2,1179.3 1616.8,1178.2C1617.3,1177.1 1615.8,1176.5 1615.9,1174.8C1616.0,1173.1 1616.9,1170.3 1617.6,1168.0C1618.3,1165.8 1619.9,1163.2 1620.1,1161.3C1620.4,1159.3 1620.3,1157.9 1619.3,1156.2C1618.3,1154.5 1616.5,1152.5 1614.2,1151.1C1612.0,1149.7 1609.1,1148.6 1605.7,1147.7C1602.4,1146.9 1597.8,1146.6 1593.9,1146.0C1589.9,1145.5 1585.4,1145.5 1582.0,1144.3C1578.7,1143.2 1575.7,1141.2 1573.6,1139.3C1571.5,1137.3 1570.5,1135.0 1569.3,1132.5C1568.2,1129.9 1568.1,1126.6 1566.8,1124.0C1565.5,1121.5 1563.7,1119.5 1561.7,1117.2C1559.8,1115.0 1557.2,1112.4 1555.0,1110.5C1552.7,1108.5 1550.7,1106.9 1548.2,1105.4C1545.6,1103.8 1542.8,1102.7 1539.7,1101.2C1536.6,1099.6 1532.7,1098.1 1529.6,1096.1C1526.5,1094.1 1524.5,1090.9 1521.1,1089.3C1517.7,1087.8 1514.0,1087.5 1509.2,1086.8C1504.4,1086.1 1497.4,1085.5 1492.3,1085.1C1487.2,1084.7 1480.9,1084.7 1478.8,1084.2C1476.6,1083.8 1479.9,1083.9 1479.5,1082.5C1479.0,1081.1 1477.8,1077.4 1476.1,1075.8C1474.4,1074.1 1472.1,1072.8 1469.3,1072.4C1466.5,1071.9 1462.0,1072.4 1459.1,1073.2C1456.3,1074.1 1454.6,1075.9 1452.4,1077.4C1450.1,1079.0 1448.4,1081.4 1445.6,1082.5C1442.8,1083.7 1438.8,1084.4 1435.4,1084.2C1432.1,1084.1 1427.8,1083.1 1425.3,1081.7C1422.7,1080.3 1421.6,1077.7 1420.2,1075.8C1418.8,1073.8 1419.4,1071.0 1416.8,1069.8C1414.3,1068.7 1408.9,1068.8 1405.0,1069.0C1401.0,1069.1 1396.2,1069.3 1393.1,1070.7C1390.0,1072.1 1388.3,1074.9 1386.3,1077.4C1384.4,1080.0 1383.2,1083.4 1381.3,1085.9C1379.3,1088.5 1374.9,1090.0 1374.5,1092.7C1374.1,1095.4 1378.4,1099.0 1378.7,1102.0C1379.0,1105.0 1378.0,1108.2 1376.2,1110.5C1374.4,1112.7 1370.3,1115.6 1367.7,1115.6C1365.2,1115.6 1362.5,1113.6 1360.9,1110.5C1359.4,1107.4 1359.0,1100.5 1358.4,1096.9C1357.8,1093.4 1357.6,1093.4 1357.6,1089.3C1357.6,1085.2 1358.7,1077.0 1358.4,1072.4C1358.1,1067.7 1358.3,1063.3 1355.9,1061.4C1353.5,1059.4 1347.7,1061.2 1344.0,1060.5C1340.3,1059.8 1336.7,1058.8 1333.9,1057.1C1331.0,1055.4 1329.3,1052.3 1327.1,1050.4C1324.8,1048.4 1323.1,1045.6 1320.3,1045.3C1317.5,1045.0 1313.5,1047.7 1310.2,1048.7C1306.8,1049.7 1304.1,1050.2 1300.0,1051.2C1295.9,1052.2 1289.3,1053.6 1285.5,1054.6C1281.7,1055.6 1280.4,1057.1 1277.0,1057.1C1273.6,1057.1 1269.4,1054.9 1265.2,1054.6C1260.9,1054.3 1256.7,1055.3 1251.6,1055.4C1246.5,1055.6 1239.8,1055.7 1234.7,1055.4C1229.6,1055.2 1224.3,1053.7 1221.2,1053.7C1218.0,1053.7 1217.2,1053.5 1216.1,1055.4C1214.9,1057.4 1214.9,1061.6 1214.4,1065.6C1213.8,1069.5 1212.8,1074.9 1212.7,1079.1C1212.5,1083.4 1213.0,1087.0 1213.5,1091.0C1214.1,1094.9 1215.1,1099.3 1216.1,1102.9C1217.1,1106.4 1217.8,1109.3 1219.5,1112.2C1221.2,1115.0 1224.1,1117.2 1226.2,1119.8C1228.3,1122.3 1231.0,1124.4 1232.2,1127.4C1233.3,1130.4 1232.7,1133.6 1233.0,1137.6C1233.3,1141.5 1233.6,1146.6 1233.8,1151.1C1234.1,1155.6 1234.4,1161.3 1234.7,1164.7C1235.0,1168.0 1237.0,1170.2 1235.5,1171.4C1234.1,1172.7 1228.5,1172.8 1226.2,1172.3C1224.0,1171.7 1222.9,1171.0 1222.0,1168.0C1221.1,1165.1 1221.0,1159.0 1220.8,1154.5C1220.7,1150.0 1221.5,1144.2 1221.2,1140.9C1220.8,1137.7 1220.3,1135.4 1218.6,1135.0C1216.9,1134.6 1213.7,1136.9 1211.0,1138.4C1208.3,1140.0 1204.6,1142.5 1202.5,1144.3C1200.4,1146.2 1198.6,1147.7 1198.3,1149.4C1198.0,1151.1 1199.3,1152.8 1200.8,1154.5C1202.4,1156.2 1205.9,1157.6 1207.6,1159.6C1209.3,1161.5 1210.7,1163.8 1211.0,1166.3C1211.3,1168.9 1209.9,1172.3 1209.3,1174.8C1208.7,1177.3 1207.6,1179.0 1207.6,1181.6C1207.6,1184.1 1209.3,1187.2 1209.3,1190.0C1209.3,1192.9 1207.5,1194.8 1207.6,1198.5C1207.7,1202.2 1209.9,1207.8 1210.1,1212.1C1210.4,1216.3 1209.6,1220.5 1209.3,1223.9C1209.0,1227.3 1208.5,1229.5 1208.5,1232.4C1208.5,1235.2 1210.3,1238.7 1209.3,1240.8C1208.3,1243.0 1205.3,1243.9 1202.5,1245.1C1199.7,1246.2 1195.2,1246.6 1192.4,1247.6C1189.5,1248.6 1187.9,1250.1 1185.6,1251.0C1183.3,1251.8 1180.5,1253.3 1178.8,1252.7C1177.1,1252.1 1176.6,1249.2 1175.4,1247.6C1174.3,1246.1 1173.7,1243.9 1172.1,1243.4C1170.4,1242.8 1166.8,1243.2 1165.3,1244.2C1163.7,1245.2 1162.5,1247.6 1162.7,1249.3C1163.0,1251.0 1165.4,1253.0 1167.0,1254.4C1168.5,1255.8 1170.9,1256.6 1172.1,1257.8C1173.2,1258.9 1173.5,1260.6 1173.7,1261.2L1173.7,1286.3L1518.6,1286.3Z" fill="#ffff00"/>
<path d="M1362.6,1261.2C1363.5,1260.3 1365.2,1258.3 1367.7,1256.1C1370.3,1253.8 1374.5,1250.4 1377.9,1247.6C1381.3,1244.8 1384.1,1241.1 1388.0,1239.1C1392.0,1237.2 1397.1,1236.9 1401.6,1235.8C1406.1,1234.6 1411.5,1234.1 1415.1,1232.4C1418.8,1230.7 1420.2,1227.9 1423.6,1225.6C1427.0,1223.3 1430.6,1220.4 1435.4,1218.8C1440.2,1217.3 1445.3,1216.6 1452.4,1216.3C1459.4,1216.0 1469.3,1217.0 1477.8,1217.1C1486.2,1217.3 1495.5,1216.9 1503.2,1217.1C1510.8,1217.4 1517.8,1217.7 1523.5,1218.8C1529.1,1220.0 1533.4,1223.3 1537.0,1223.9C1540.7,1224.5 1542.1,1223.6 1545.5,1222.2C1548.9,1220.8 1554.0,1217.7 1557.3,1215.4C1560.7,1213.2 1563.5,1211.5 1565.8,1208.7C1568.1,1205.8 1568.9,1201.9 1570.9,1198.5C1572.9,1195.1 1576.0,1191.5 1577.7,1188.4C1579.3,1185.2 1581.0,1182.7 1581.0,1179.9C1581.0,1177.1 1578.5,1174.5 1577.7,1171.4C1576.8,1168.3 1577.7,1164.1 1576.0,1161.3C1574.3,1158.4 1571.2,1155.9 1567.5,1154.5C1563.8,1153.1 1559.0,1152.8 1554.0,1152.8C1548.9,1152.8 1542.7,1155.1 1537.0,1154.5C1531.4,1153.9 1527.1,1150.5 1520.1,1149.4C1513.0,1148.3 1503.2,1148.1 1494.7,1147.7C1486.2,1147.3 1476.9,1147.4 1469.3,1146.9C1461.7,1146.3 1454.6,1145.6 1449.0,1144.3C1443.3,1143.1 1439.4,1141.2 1435.4,1139.3C1431.5,1137.3 1428.1,1135.3 1425.3,1132.5C1422.5,1129.7 1421.6,1125.4 1418.5,1122.3C1415.4,1119.2 1410.2,1116.1 1406.7,1113.9C1403.1,1111.6 1401.0,1108.2 1397.3,1108.8C1393.7,1109.3 1387.6,1114.7 1384.7,1117.2C1381.7,1119.8 1380.1,1121.8 1379.6,1124.0C1379.0,1126.3 1381.3,1128.3 1381.3,1130.8C1381.3,1133.3 1381.0,1135.9 1379.6,1139.3C1378.2,1142.6 1374.6,1147.7 1372.8,1151.1C1371.0,1154.5 1369.1,1156.7 1368.6,1159.6C1368.0,1162.4 1369.7,1165.2 1369.4,1168.0C1369.1,1170.9 1367.6,1176.5 1366.9,1176.5C1366.2,1176.5 1365.3,1170.9 1365.2,1168.0C1365.0,1165.2 1366.5,1162.1 1366.0,1159.6C1365.6,1157.0 1364.3,1155.3 1362.6,1152.8C1360.9,1150.3 1358.1,1146.6 1355.9,1144.3C1353.6,1142.1 1352.8,1140.1 1349.1,1139.3C1345.4,1138.4 1338.1,1140.1 1333.9,1139.3C1329.6,1138.4 1325.7,1137.0 1323.7,1134.2C1321.7,1131.4 1322.6,1127.1 1322.0,1122.3C1321.4,1117.5 1321.4,1110.8 1320.3,1105.4C1319.2,1100.0 1316.6,1093.4 1315.2,1090.2C1313.8,1086.9 1313.3,1087.8 1311.9,1085.9C1310.4,1084.1 1308.1,1080.7 1306.8,1079.1C1305.5,1077.6 1306.2,1077.3 1304.1,1076.6C1302.0,1075.9 1297.1,1074.2 1294.0,1074.9C1290.8,1075.6 1287.7,1078.7 1285.5,1080.8C1283.2,1083.0 1283.2,1086.1 1280.4,1087.6C1277.6,1089.2 1271.9,1089.3 1268.6,1090.1C1265.2,1091.0 1262.3,1090.9 1260.1,1092.7C1257.8,1094.5 1256.4,1098.3 1255.0,1101.2C1253.6,1104.0 1252.5,1105.6 1251.6,1110.0C1250.8,1114.3 1251.1,1122.5 1249.9,1127.4C1248.8,1132.3 1246.3,1135.3 1244.9,1139.3C1243.4,1143.2 1242.2,1146.9 1241.5,1151.1C1240.8,1155.3 1240.5,1159.6 1240.6,1164.7C1240.8,1169.7 1241.9,1176.5 1242.3,1181.6C1242.7,1186.7 1244.1,1192.0 1243.2,1195.1C1242.2,1198.2 1238.2,1198.5 1236.4,1200.2C1234.6,1201.9 1232.4,1203.6 1232.2,1205.3C1231.9,1207.0 1232.9,1209.8 1234.7,1210.4C1236.5,1210.9 1240.1,1209.5 1243.2,1208.7C1246.3,1207.8 1249.7,1206.4 1253.3,1205.3C1257.0,1204.2 1261.8,1202.7 1265.2,1201.9C1268.6,1201.0 1271.7,1199.4 1273.6,1200.2C1275.6,1201.0 1276.2,1203.9 1277.0,1207.0C1277.9,1210.1 1279.0,1215.0 1278.7,1218.8C1278.4,1222.6 1274.5,1229.0 1275.3,1229.8C1276.2,1230.7 1280.7,1225.2 1283.8,1223.9C1286.9,1222.6 1290.6,1223.9 1294.0,1222.2C1297.3,1220.5 1301.3,1216.6 1304.1,1213.7C1306.9,1210.9 1308.3,1207.4 1310.9,1205.3C1313.4,1203.2 1320.6,1202.5 1319.3,1201.0C1318.1,1199.6 1304.6,1197.8 1303.4,1196.8C1302.1,1195.8 1308.7,1195.1 1311.9,1195.1C1315.0,1195.1 1319.2,1195.7 1322.0,1196.8C1324.8,1197.9 1326.9,1199.6 1328.8,1201.9C1330.6,1204.2 1332.2,1207.3 1333.0,1210.4C1333.9,1213.5 1333.2,1217.4 1333.9,1220.5C1334.6,1223.6 1336.1,1226.4 1337.2,1229.0C1338.4,1231.5 1340.9,1233.8 1340.6,1235.8C1340.3,1237.7 1337.2,1240.3 1335.6,1240.8C1333.9,1241.4 1332.2,1240.1 1330.5,1239.1C1328.8,1238.2 1327.1,1235.2 1325.4,1234.9C1323.7,1234.6 1320.9,1236.5 1320.3,1237.4C1319.8,1238.4 1322.3,1239.1 1322.0,1240.8C1321.7,1242.5 1320.6,1245.9 1318.6,1247.6C1316.6,1249.3 1313.3,1249.9 1310.2,1251.0C1307.1,1252.1 1302.1,1253.5 1300.0,1254.4C1297.9,1255.2 1299.2,1254.9 1297.3,1256.1C1295.5,1257.2 1290.3,1260.3 1288.9,1261.2L1288.9,1286.3L1362.6,1286.3Z" fill="#ff6a00"/>
<path d="M1294.0,1096.1C1291.1,1096.1 1286.6,1095.7 1283.8,1096.9C1281.0,1098.2 1280.1,1101.4 1277.0,1103.7C1273.9,1106.0 1268.3,1107.9 1265.2,1110.5C1262.1,1113.0 1259.8,1115.6 1258.4,1118.9C1257.0,1122.3 1257.8,1127.1 1256.7,1130.8C1255.6,1134.5 1253.6,1137.6 1251.6,1140.9C1249.7,1144.3 1246.4,1147.2 1244.9,1151.1C1243.3,1155.1 1242.6,1160.1 1242.3,1164.7C1242.0,1169.2 1242.7,1173.7 1243.2,1178.2C1243.6,1182.7 1243.2,1189.2 1244.9,1191.7C1246.5,1194.3 1249.9,1193.7 1253.3,1193.4C1256.7,1193.1 1261.2,1190.3 1265.2,1190.0C1269.1,1189.8 1273.6,1190.3 1277.0,1191.7C1280.4,1193.1 1282.9,1196.0 1285.5,1198.5C1288.0,1201.0 1290.3,1206.1 1292.3,1207.0C1294.2,1207.8 1295.4,1205.3 1297.3,1203.6C1299.3,1201.9 1301.3,1198.2 1304.1,1196.8C1306.9,1195.4 1310.7,1194.8 1314.2,1195.1C1317.8,1195.4 1322.1,1197.4 1325.4,1198.5C1328.7,1199.6 1331.7,1200.2 1333.9,1201.9C1336.0,1203.6 1337.0,1206.3 1338.1,1208.7C1339.2,1211.1 1339.5,1215.4 1340.6,1216.3C1341.8,1217.1 1344.0,1215.9 1344.9,1213.7C1345.7,1211.6 1345.0,1206.4 1345.7,1203.6C1346.4,1200.8 1347.4,1199.4 1349.1,1196.8C1350.8,1194.3 1354.6,1192.0 1355.9,1188.4C1357.1,1184.7 1357.0,1179.3 1356.7,1174.8C1356.4,1170.3 1355.4,1164.7 1354.2,1161.3C1352.9,1157.9 1351.9,1155.3 1349.1,1154.5C1346.3,1153.6 1341.5,1157.3 1337.2,1156.2C1333.0,1155.1 1327.7,1150.5 1323.7,1147.7C1319.8,1144.9 1316.4,1143.5 1313.5,1139.3C1310.7,1135.0 1308.5,1128.0 1306.8,1122.3C1305.1,1116.7 1304.5,1109.9 1303.4,1105.4C1302.3,1100.9 1299.7,1095.9 1300.0,1095.2C1300.3,1094.5 1305.0,1100.9 1305.1,1101.2C1305.2,1101.4 1302.6,1097.8 1300.7,1096.9C1298.9,1096.1 1296.8,1096.1 1294.0,1096.1Z" fill="#ff0000"/>
<path d="M1290.6,1112.2C1288.0,1112.4 1285.2,1113.9 1282.1,1115.6C1279.0,1117.2 1274.5,1119.8 1271.9,1122.3C1269.4,1124.9 1268.3,1127.7 1266.9,1130.8C1265.5,1133.9 1265.5,1137.6 1263.5,1140.9C1261.5,1144.3 1257.6,1148.0 1255.0,1151.1C1252.5,1154.2 1249.9,1156.2 1248.2,1159.6C1246.5,1163.0 1245.4,1167.5 1244.9,1171.4C1244.3,1175.4 1244.0,1180.2 1244.9,1183.3C1245.7,1186.4 1247.7,1189.2 1249.9,1190.0C1252.2,1190.9 1255.6,1189.2 1258.4,1188.4C1261.2,1187.5 1263.8,1185.5 1266.9,1185.0C1270.0,1184.4 1273.9,1184.4 1277.0,1185.0C1280.1,1185.5 1282.7,1187.5 1285.5,1188.4C1288.3,1189.2 1290.8,1190.3 1294.0,1190.0C1297.1,1189.8 1300.7,1187.8 1304.1,1186.7C1307.5,1185.5 1312.1,1183.6 1314.3,1183.3C1316.4,1183.0 1316.8,1186.1 1316.9,1185.0C1317.1,1183.8 1316.4,1180.5 1315.2,1176.5C1314.1,1172.6 1311.9,1166.6 1310.2,1161.3C1308.5,1155.9 1306.8,1149.4 1305.1,1144.3C1303.4,1139.3 1300.4,1134.5 1300.0,1130.8C1299.6,1127.1 1302.9,1125.1 1302.4,1122.3C1302.0,1119.5 1299.3,1115.6 1297.3,1113.9C1295.4,1112.2 1293.1,1111.9 1290.6,1112.2Z" fill="#c83c0c"/>
<path d="M1408.4,1135.9C1412.0,1135.6 1414.6,1139.0 1418.5,1140.9C1422.5,1142.9 1427.8,1145.5 1432.1,1147.7C1436.3,1150.0 1439.4,1152.5 1443.9,1154.5C1448.4,1156.5 1453.8,1158.4 1459.1,1159.6C1464.5,1160.7 1474.1,1159.6 1476.1,1161.3C1478.0,1163.0 1473.3,1166.9 1471.0,1169.7C1468.7,1172.6 1465.6,1175.4 1462.5,1178.2C1459.4,1181.0 1456.0,1183.8 1452.4,1186.7C1448.7,1189.5 1443.9,1192.3 1440.5,1195.1C1437.1,1197.9 1435.2,1200.5 1432.1,1203.6C1429.0,1206.7 1425.6,1211.2 1421.9,1213.7C1418.2,1216.3 1414.3,1217.7 1410.0,1218.8C1405.8,1220.0 1400.7,1220.0 1396.5,1220.5C1392.3,1221.1 1388.3,1222.8 1384.7,1222.2C1381.0,1221.6 1376.9,1219.7 1374.5,1217.1C1372.1,1214.6 1371.0,1210.6 1370.3,1207.0C1369.6,1203.3 1369.8,1199.4 1370.3,1195.1C1370.7,1190.9 1371.8,1186.1 1372.8,1181.6C1373.8,1177.1 1374.8,1172.0 1376.2,1168.0C1377.6,1164.1 1379.3,1161.0 1381.3,1157.9C1383.2,1154.8 1385.5,1152.0 1388.0,1149.4C1390.6,1146.9 1393.1,1144.9 1396.5,1142.6C1399.9,1140.4 1404.7,1136.2 1408.4,1135.9Z" fill="#ff0000"/>
<path d="M1408.4,1152.0C1410.9,1151.7 1415.1,1153.2 1416.8,1154.5C1418.5,1155.8 1419.1,1158.2 1418.5,1159.6C1417.9,1161.0 1415.4,1161.8 1413.4,1163.0C1411.5,1164.1 1408.1,1164.4 1406.7,1166.3C1405.2,1168.3 1404.7,1172.0 1405.0,1174.8C1405.2,1177.6 1408.1,1180.2 1408.4,1183.3C1408.6,1186.4 1407.8,1190.6 1406.7,1193.4C1405.5,1196.3 1403.8,1197.9 1401.6,1200.2C1399.3,1202.5 1395.9,1205.3 1393.1,1207.0C1390.3,1208.7 1386.9,1210.6 1384.7,1210.4C1382.4,1210.1 1380.7,1207.8 1379.6,1205.3C1378.4,1202.7 1377.9,1198.5 1377.9,1195.1C1377.9,1191.7 1378.4,1188.4 1379.6,1185.0C1380.7,1181.6 1382.4,1177.3 1384.7,1174.8C1386.9,1172.3 1390.6,1171.4 1393.1,1169.7C1395.7,1168.0 1398.5,1166.9 1399.9,1164.7C1401.3,1162.4 1400.2,1158.3 1401.6,1156.2C1403.0,1154.1 1405.8,1152.2 1408.4,1152.0Z" fill="#c83c0c"/>
<path d="M1544.6,1196.8C1544.6,1195.3 1547.9,1193.4 1550.6,1192.6C1553.2,1191.7 1558.2,1191.0 1560.7,1191.7C1563.3,1192.4 1565.5,1194.8 1565.8,1196.8C1566.1,1198.8 1563.8,1202.2 1562.4,1203.6C1561.0,1205.0 1559.3,1205.6 1557.3,1205.3C1555.4,1205.0 1552.7,1203.3 1550.6,1201.9C1548.4,1200.5 1544.6,1198.4 1544.6,1196.8Z" fill="#ff0000"/>
<ellipse cx="1398.2" cy="1125.7" rx="5.9" ry="5.4" fill="#ff0000" />
<ellipse cx="1458.8" cy="1013.1" rx="3.7" ry="3.7" fill="#00ff00" />
<ellipse cx="1433.7" cy="1044.4" rx="13.9" ry="6.8" fill="#00ffff" />
<ellipse cx="1506.5" cy="1030.9" rx="5.1" ry="2.0" fill="#00ffff" />
<ellipse cx="1430.4" cy="1063.1" rx="12.2" ry="5.9" fill="#ffff00" transform="rotate(-8 1430.4 1063.1)" />
<ellipse cx="1397.3" cy="1046.1" rx="3.0" ry="1.0" fill="#ffff00" />
<ellipse cx="1472.7" cy="1091.9" rx="5.9" ry="8.5" fill="#00ff00" transform="rotate(15 1472.7 1091.9)" />
<ellipse cx="1452.4" cy="1106.2" rx="11.0" ry="4.2" fill="#00ff00" transform="rotate(-8 1452.4 1106.2)" />
<ellipse cx="1490.5" cy="1107.1" rx="9.3" ry="5.1" fill="#00ff00" transform="rotate(8 1490.5 1107.1)" />
<ellipse cx="1537.0" cy="1128.3" rx="8.5" ry="8.8" fill="#00ff00" transform="rotate(10 1537.0 1128.3)" />
<ellipse cx="1471.0" cy="1232.4" rx="5.9" ry="3.7" fill="#00ff00" />
<ellipse cx="1418.5" cy="1093.5" rx="8.5" ry="3.7" fill="#ff6a00" transform="rotate(12 1418.5 1093.5)" />
<ellipse cx="1245.7" cy="1250.1" rx="7.6" ry="4.7" fill="#ff6a00" transform="rotate(-10 1245.7 1250.1)" />
<ellipse cx="1472.0" cy="1090.2" rx="6.8" ry="7.6" fill="#00ff00" />
<ellipse cx="1472.0" cy="1232.4" rx="4.7" ry="3.7" fill="#00ff00" />
<path d="M1588.8,987.7C1589.1,986.7 1592.8,984.7 1595.6,983.5C1598.4,982.3 1602.6,981.2 1605.7,980.6C1608.9,980.0 1613.1,979.6 1614.2,980.1C1615.3,980.6 1614.2,982.4 1612.5,983.5C1610.8,984.6 1607.2,985.9 1604.1,986.9C1601.0,987.9 1596.4,989.3 1593.9,989.4C1591.4,989.6 1588.5,988.7 1588.8,987.7Z" fill="#00ff00"/>
<path d="M1472.0,1009.7C1473.6,1009.7 1476.0,1012.8 1476.2,1014.8C1476.5,1016.8 1475.0,1020.2 1473.7,1021.6C1472.4,1023.0 1469.7,1024.4 1468.6,1023.3C1467.5,1022.1 1466.4,1017.1 1466.9,1014.8C1467.5,1012.6 1470.4,1009.7 1472.0,1009.7Z" fill="#00ffff"/>
<ellipse cx="1228.8" cy="1182.4" rx="6.8" ry="10.5" fill="#00ffff" />
<ellipse cx="1228.8" cy="1182.9" rx="4.1" ry="7.1" fill="#7490e8" />
<path d="M1260.1,1204.4C1262.9,1204.4 1266.6,1205.1 1268.6,1207.0C1270.5,1208.8 1272.2,1212.3 1271.9,1215.4C1271.7,1218.5 1269.1,1222.8 1266.9,1225.6C1264.6,1228.4 1260.7,1229.8 1258.4,1232.4C1256.1,1234.9 1255.9,1239.0 1253.3,1240.8C1250.8,1242.7 1246.3,1243.9 1243.2,1243.4C1240.1,1242.8 1236.4,1239.8 1234.7,1237.4C1233.0,1235.1 1232.4,1231.8 1233.0,1229.0C1233.6,1226.2 1235.8,1223.1 1238.1,1220.5C1240.3,1218.0 1244.3,1216.0 1246.5,1213.7C1248.8,1211.5 1249.4,1208.5 1251.6,1207.0C1253.9,1205.4 1257.3,1204.4 1260.1,1204.4Z" fill="#00ff00"/>
<path d="M1260.1,1207.8C1262.1,1208.0 1264.6,1209.0 1266.0,1210.4C1267.4,1211.8 1268.8,1214.0 1268.6,1216.3C1268.3,1218.5 1266.3,1221.6 1264.3,1223.9C1262.3,1226.2 1258.8,1227.6 1256.7,1229.8C1254.6,1232.1 1253.7,1235.8 1251.6,1237.4C1249.5,1239.1 1246.3,1239.9 1244.0,1239.5C1241.7,1239.1 1239.2,1236.7 1238.1,1234.9C1237.0,1233.2 1236.7,1231.0 1237.2,1229.0C1237.8,1227.0 1239.5,1225.2 1241.5,1223.1C1243.4,1220.9 1247.0,1218.5 1249.1,1216.3C1251.2,1214.0 1252.3,1210.9 1254.2,1209.5C1256.0,1208.1 1258.1,1207.7 1260.1,1207.8Z" fill="#00ffff"/>
<ellipse cx="1260.1" cy="1216.3" rx="4.7" ry="4.7" fill="#7490e8" />
<ellipse cx="1245.7" cy="1229.8" rx="4.4" ry="4.4" fill="#7490e8" />
<path d="M1320.3,1203.6C1322.9,1203.7 1326.8,1205.0 1328.8,1207.0C1330.8,1209.0 1332.2,1212.6 1332.2,1215.4C1332.2,1218.3 1330.8,1221.8 1328.8,1223.9C1326.8,1226.0 1323.1,1227.3 1320.3,1228.1C1317.5,1229.0 1314.4,1228.4 1311.9,1229.0C1309.3,1229.5 1305.9,1232.4 1305.1,1231.5C1304.2,1230.7 1306.1,1226.9 1306.8,1223.9C1307.5,1220.9 1308.2,1216.7 1309.3,1213.7C1310.4,1210.8 1311.7,1207.8 1313.5,1206.1C1315.4,1204.4 1317.8,1203.4 1320.3,1203.6Z" fill="#00ff00"/>
<ellipse cx="1320.3" cy="1215.4" rx="8.5" ry="8.5" fill="#00ffff" />
<ellipse cx="1320.3" cy="1215.4" rx="5.1" ry="5.1" fill="#7490e8" />
<ellipse cx="1169.5" cy="1046.1" rx="5.1" ry="5.1" fill="#fff" stroke="#0000ff" stroke-width="2.2"/>
<ellipse cx="1145.8" cy="1122.3" rx="11.5" ry="5.6" fill="#fff" stroke="#0000ff" stroke-width="2.2"/>
<ellipse cx="1198.0" cy="1123.2" rx="5.4" ry="5.4" fill="#fff" stroke="#0000ff" stroke-width="2.2"/>
<path d="M1150.9,1170.6C1150.9,1168.5 1155.8,1164.5 1158.5,1161.3C1161.2,1158.0 1164.7,1153.4 1167.0,1151.1C1169.2,1148.8 1170.8,1147.2 1172.1,1147.7C1173.3,1148.3 1174.3,1151.4 1174.6,1154.5C1174.9,1157.6 1174.5,1163.4 1173.7,1166.3C1173.0,1169.3 1172.9,1171.1 1170.4,1172.3C1167.8,1173.5 1161.8,1173.7 1158.5,1173.5C1155.3,1173.2 1150.9,1172.6 1150.9,1170.6Z" fill="#ffffff" stroke="#0000ff" stroke-width="2.2"/>
<ellipse cx="1185.1" cy="1185.8" rx="5.1" ry="5.1" fill="#fff" stroke="#0000ff" stroke-width="2.2"/>
<ellipse cx="1185.6" cy="1213.7" rx="6.1" ry="6.1" fill="#fff" stroke="#0000ff" stroke-width="2.2"/>
<ellipse cx="1198.3" cy="1171.4" rx="3.0" ry="3.4" fill="#0000ff" />
<path d="M1184.2,1030.0 L1196.1,1016.2" stroke="#0000ff" stroke-width="10.5" stroke-linecap="round"/>
</g>
<ellipse cx="1122.1" cy="984.7" rx="5.1" ry="5.1" fill="#0000ff" />
<path d="M1017.5,800.5 V1268 M1017.5,831.5 H1762.7 V1262 H1017.5" stroke="#000" stroke-width="2.3" fill="none"/>
<path d="M1008.5,801.25 H1017.5" stroke="#000" stroke-width="2.3" fill="none"/>
<path d="M1008.5,859.5 H1017.5" stroke="#000" stroke-width="2.3" fill="none"/>
<path d="M1008.5,917.7 H1017.5" stroke="#000" stroke-width="2.3" fill="none"/>
<path d="M1008.5,976 H1017.5" stroke="#000" stroke-width="2.3" fill="none"/>
<path d="M1008.5,1034.2 H1017.5" stroke="#000" stroke-width="2.3" fill="none"/>
<path d="M1008.5,1092.5 H1017.5" stroke="#000" stroke-width="2.3" fill="none"/>
<path d="M1008.5,1150.8 H1017.5" stroke="#000" stroke-width="2.3" fill="none"/>
<path d="M1008.5,1209 H1017.5" stroke="#000" stroke-width="2.3" fill="none"/>
<path d="M1008.5,1267.3 H1017.5" stroke="#000" stroke-width="2.3" fill="none"/>
<path d="M1163.3,822.5 V831.5 M1163.3,1262 V1271" stroke="#000" stroke-width="2.3" fill="none"/>
<path d="M1309.3,822.5 V831.5 M1309.3,1262 V1271" stroke="#000" stroke-width="2.3" fill="none"/>
<path d="M1455.6,822.5 V831.5 M1455.6,1262 V1271" stroke="#000" stroke-width="2.3" fill="none"/>
<path d="M1601.7,822.5 V831.5 M1601.7,1262 V1271" stroke="#000" stroke-width="2.3" fill="none"/>
<path d="M1747.3,822.5 V831.5 M1747.3,1262 V1271" stroke="#000" stroke-width="2.3" fill="none"/>
<path d="M1017.5,1262 V1271" stroke="#000" stroke-width="2.3" fill="none"/>
<path d="M1762.7,975.5 H1772 M1762.7,1121.5 H1772" stroke="#000" stroke-width="2.3" fill="none"/>
<g font-family="'Liberation Sans',sans-serif" font-size="31px" fill="#000">
<text x="1008" y="811.5" text-anchor="end">16</text>
<text x="1008" y="869.7" text-anchor="end">14</text>
<text x="1008" y="927.9" text-anchor="end">12</text>
<text x="1008" y="986.2" text-anchor="end">10</text>
<text x="1008" y="1044.4" text-anchor="end">8</text>
<text x="1008" y="1102.7" text-anchor="end">6</text>
<text x="1008" y="1161.0" text-anchor="end">4</text>
<text x="1008" y="1219.2" text-anchor="end">2</text>
<text x="1008" y="1277.5" text-anchor="end">0</text>
<text x="1016.5" y="1298" text-anchor="middle">20</text>
<text x="1162.7" y="1298" text-anchor="middle">25</text>
<text x="1309" y="1298" text-anchor="middle">30</text>
<text x="1455.3" y="1298" text-anchor="middle">35</text>
<text x="1601.5" y="1298" text-anchor="middle">40</text>
<text x="1746.5" y="1298" text-anchor="middle">45</text>
</g>
<text x="1222.5" y="1350" font-family="'Liberation Sans',sans-serif" font-size="36px" fill="#000" textLength="391.5" lengthAdjust="spacingAndGlyphs">Horizontal distance (km)</text>
<text transform="translate(945.8,1143) rotate(-90)" font-family="'Liberation Sans',sans-serif" font-size="36px" fill="#000" textLength="188.5" lengthAdjust="spacingAndGlyphs">Height (km)</text>
<text x="1115.5" y="913.8" font-family="'Liberation Serif',serif" font-size="40px" fill="#000" textLength="474.5" lengthAdjust="spacing">Bounded Weak Echo Region</text>
<path d="M1273.3,938 L1322.5,1186" stroke="#000" stroke-width="4.2" fill="none"/>
<path d="M1326.7,1202.5 L1312.5,1185 L1332.4,1180.7 Z" fill="#000"/>
</g>
<g font-family="'Liberation Sans',sans-serif" font-weight="bold" font-size="51px" fill="#000">
<text x="303" y="693">a</text>
<text x="1312.5" y="692.6">b</text>
<text x="304" y="1498">c</text>
<text x="1313" y="1510.5">d</text>
</g>
</svg>
</body>
</html>
